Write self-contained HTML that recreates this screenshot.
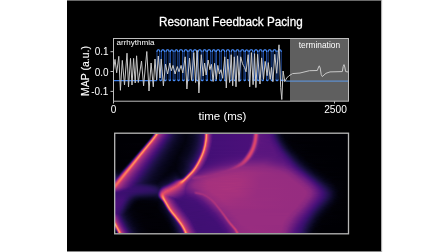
<!DOCTYPE html>
<html><head><meta charset="utf-8"><style>
html,body{margin:0;padding:0;background:#fff;width:448px;height:252px;overflow:hidden}
.b{position:absolute;top:0;height:252px}
#hm{position:absolute;left:115px;top:134px;width:233px;height:99px}
#hm i{display:block;height:1px;width:233px}
svg{position:absolute;left:0;top:0;display:block}
text{font-family:"Liberation Sans",Arial,sans-serif;fill:#fff}
</style></head><body>
<div class="b" style="left:67px;width:314px;background:#000"></div>
<div class="b" style="left:381px;width:1px;background:#afafaf"></div>
<div class="b" style="left:382px;width:1px;background:#f4f4f4"></div>
<div class="b" style="left:67px;width:314px;height:1px;background:#696969"></div>
<div class="b" style="left:67px;top:251px;width:314px;height:1px;background:#878787"></div>
<div id="hm">
<i style="background:linear-gradient(90deg,#000004 0.5px,#010005 36.5px,#03030f 37.5px,#1d1147 38.5px,#792282 39.5px,#ef5d5e 40.5px,#fea36f 41.5px,#f66e5c 42.5px,#c53c74 43.5px,#a6317d 44.5px,#792282 47.5px,#4e117b 51.5px,#311165 54.5px,#19103f 58.5px,#0d0a29 62.5px,#030312 69.5px,#030312 72.5px,#0c0926 79.5px,#180f3d 83.5px,#311165 87.5px,#3b0f70 88.5px,#671b80 89.5px,#e04c67 90.5px,#fd9a6a 91.5px,#e24d66 92.5px,#aa337d 93.5px,#721f81 95.5px,#4e117b 97.5px,#451077 98.5px,#4a1079 134.5px,#4e117b 136.5px,#54137d 137.5px,#721f81 138.5px,#a8327d 139.5px,#d3436e 140.5px,#d6456c 141.5px,#b3367a 142.5px,#832681 143.5px,#6b1d81 144.5px,#601880 145.5px,#5a167e 148.5px,#4f127b 154.5px,#3f0f72 157.5px,#251255 160.5px,#110c2f 163.5px,#050416 166.5px,#020109 170.5px,#000004 199.5px,#000004 232.5px)"></i>
<i style="background:linear-gradient(90deg,#000004 0.5px,#000004 35.5px,#020109 36.5px,#100b2d 37.5px,#52137c 38.5px,#c43c75 39.5px,#fc8a62 40.5px,#fb8761 41.5px,#db476a 42.5px,#b2357b 43.5px,#8c2981 45.5px,#52137c 50.5px,#36106b 53.5px,#180f3d 58.5px,#0a0822 63.5px,#03030f 70.5px,#08071e 77.5px,#180f3d 83.5px,#311165 87.5px,#3b0f70 88.5px,#681c81 89.5px,#e44f64 90.5px,#fd9a6a 91.5px,#e04c67 92.5px,#a8327d 93.5px,#892881 94.5px,#5d177f 96.5px,#4e117b 97.5px,#451077 98.5px,#4a1079 134.5px,#4e117b 136.5px,#56147d 137.5px,#762181 138.5px,#ae347b 139.5px,#d5446d 140.5px,#d5446d 141.5px,#ae347b 142.5px,#812581 143.5px,#6a1c81 144.5px,#5f187f 145.5px,#5a167e 147.5px,#54137d 153.5px,#400f74 157.5px,#271258 160.5px,#120d31 163.5px,#060518 166.5px,#02020b 169.5px,#000004 187.5px,#000004 232.5px)"></i>
<i style="background:linear-gradient(90deg,#000004 0.5px,#000004 34.5px,#010108 35.5px,#090720 36.5px,#390f6e 37.5px,#a3307e 38.5px,#f9785d 39.5px,#fc9065 40.5px,#e75263 41.5px,#b83779 42.5px,#a1307e 43.5px,#6a1c81 47.5px,#440f76 51.5px,#20114b 56.5px,#110c2f 60.5px,#050416 67.5px,#03030f 71.5px,#0e0b2b 80.5px,#221150 85.5px,#3b0f70 88.5px,#6b1d81 89.5px,#e95462 90.5px,#fd9a6a 91.5px,#df4a68 92.5px,#a6317d 93.5px,#882781 94.5px,#5c167f 96.5px,#4c117a 97.5px,#451077 98.5px,#4a1079 134.5px,#4e117b 136.5px,#57157e 137.5px,#7e2482 138.5px,#b5367a 139.5px,#d8456c 140.5px,#d2426f 141.5px,#aa337d 142.5px,#7e2482 143.5px,#681c81 144.5px,#5d177f 145.5px,#52137c 154.5px,#3b0f70 158.5px,#221150 161.5px,#100b2d 164.5px,#07061c 166.5px,#02020b 169.5px,#000004 187.5px,#000004 232.5px)"></i>
<i style="background:linear-gradient(90deg,#000004 0.5px,#010106 34.5px,#060518 35.5px,#271258 36.5px,#862781 37.5px,#f05f5e 38.5px,#fd9869 39.5px,#f3655c 40.5px,#c43c75 41.5px,#a6317d 42.5px,#792282 45.5px,#451077 50.5px,#29115a 54.5px,#150e38 58.5px,#06051a 65.5px,#03030f 71.5px,#0c0926 79.5px,#1d1147 84.5px,#311165 87.5px,#3d0f71 88.5px,#701f81 89.5px,#ee5b5e 90.5px,#fd9a6a 91.5px,#dc4869 92.5px,#a5317e 93.5px,#862781 94.5px,#5a167e 96.5px,#4c117a 97.5px,#451077 98.5px,#4a1079 134.5px,#4e117b 136.5px,#5a167e 137.5px,#842681 138.5px,#bc3978 139.5px,#d9466b 140.5px,#cf4070 141.5px,#a3307e 142.5px,#7b2382 143.5px,#671b80 144.5px,#5d177f 145.5px,#52137c 154.5px,#3f0f72 158.5px,#251255 161.5px,#08071e 166.5px,#02020d 169.5px,#010106 176.5px,#000004 232.5px)"></i>
<i style="background:linear-gradient(90deg,#000004 0.5px,#010005 33.5px,#030312 34.5px,#1c1044 35.5px,#6d1d81 36.5px,#de4968 37.5px,#fd9467 38.5px,#f9785d 39.5px,#d2426f 40.5px,#ad347c 41.5px,#8b2981 43.5px,#5c167f 47.5px,#38106c 51.5px,#1c1044 56.5px,#0c0926 61.5px,#03030f 70.5px,#07061c 76.5px,#150e38 82.5px,#331067 87.5px,#400f74 88.5px,#782281 89.5px,#f3655c 90.5px,#fd9668 91.5px,#d9466b 92.5px,#a1307e 93.5px,#6d1d81 95.5px,#4a1079 97.5px,#451077 99.5px,#4a1079 134.5px,#4e117b 136.5px,#5d177f 137.5px,#8c2981 138.5px,#c23b75 139.5px,#db476a 140.5px,#ca3e72 141.5px,#9c2e7f 142.5px,#782281 143.5px,#651a80 144.5px,#5c167f 145.5px,#54137d 154.5px,#420f75 158.5px,#2a115c 161.5px,#0e0b2b 165.5px,#02020b 170.5px,#010005 181.5px,#000004 232.5px)"></i>
<i style="background:linear-gradient(90deg,#000004 0.5px,#010005 32.5px,#02020d 33.5px,#130d34 34.5px,#59157e 35.5px,#c73d73 36.5px,#fc8961 37.5px,#fb8560 38.5px,#dc4869 39.5px,#b3367a 40.5px,#9e2f7f 41.5px,#681c81 45.5px,#420f75 49.5px,#21114e 54.5px,#130d34 58.5px,#07061c 64.5px,#03030f 70.5px,#090720 77.5px,#130d34 81.5px,#241253 85.5px,#341069 87.5px,#440f76 88.5px,#862781 89.5px,#f7725c 90.5px,#fc9065 91.5px,#d3436e 92.5px,#9e2f7f 93.5px,#812581 94.5px,#57157e 96.5px,#4a1079 97.5px,#451077 99.5px,#4a1079 134.5px,#4f127b 136.5px,#621980 137.5px,#942c80 138.5px,#c83e73 139.5px,#db476a 140.5px,#c53c74 141.5px,#962c80 142.5px,#752181 143.5px,#641a80 144.5px,#5c167f 145.5px,#56147d 154.5px,#3f0f72 159.5px,#251255 162.5px,#0c0926 166.5px,#02020d 170.5px,#010106 175.5px,#000004 232.5px)"></i>
<i style="background:linear-gradient(90deg,#000004 0.5px,#000004 31.5px,#020109 32.5px,#0e0b2b 33.5px,#491078 34.5px,#b0357b 35.5px,#f97b5d 36.5px,#fc8e64 37.5px,#e75263 38.5px,#ba3878 39.5px,#a3307e 40.5px,#782281 43.5px,#451077 48.5px,#271258 52.5px,#140e36 57.5px,#090720 62.5px,#03030f 70.5px,#0b0924 78.5px,#160f3b 82.5px,#341069 87.5px,#4a1079 88.5px,#962c80 89.5px,#fa815f 90.5px,#fb8761 91.5px,#cd4071 92.5px,#9b2e7f 93.5px,#681c81 95.5px,#491078 97.5px,#440f76 98.5px,#4a1079 134.5px,#52137c 136.5px,#6b1d81 137.5px,#a02f7f 138.5px,#cf4070 139.5px,#d9466b 140.5px,#bf3a77 141.5px,#8e2a81 142.5px,#701f81 143.5px,#621980 144.5px,#5a167e 146.5px,#59157e 153.5px,#471078 158.5px,#331067 161.5px,#140e36 165.5px,#050416 169.5px,#010106 174.5px,#000004 232.5px)"></i>
<i style="background:linear-gradient(90deg,#000004 0.5px,#000004 30.5px,#010108 31.5px,#0a0822 32.5px,#3b0f70 33.5px,#9c2e7f 34.5px,#f56b5c 35.5px,#fd9467 36.5px,#f1605d 37.5px,#c43c75 38.5px,#a8327d 39.5px,#7b2382 42.5px,#491078 47.5px,#2a115c 51.5px,#120d31 57.5px,#06051a 64.5px,#03030f 70.5px,#08071e 76.5px,#130d34 81.5px,#251255 85.5px,#36106b 87.5px,#51127c 88.5px,#ab337c 89.5px,#fc8c63 90.5px,#f9785d 91.5px,#c43c75 92.5px,#982d80 93.5px,#671b80 95.5px,#471078 97.5px,#451077 100.5px,#4a1079 134.5px,#4c117a 135.5px,#56147d 136.5px,#762181 137.5px,#ab337c 138.5px,#d3436e 139.5px,#d8456c 140.5px,#b73779 141.5px,#862781 142.5px,#6d1d81 143.5px,#601880 144.5px,#5a167e 146.5px,#57157e 154.5px,#451077 159.5px,#2d1161 162.5px,#0d0a29 167.5px,#03030f 171.5px,#010005 177.5px,#000004 232.5px)"></i>
<i style="background:linear-gradient(90deg,#000004 0.5px,#000004 29.5px,#010108 30.5px,#07061c 31.5px,#2d1161 32.5px,#892881 33.5px,#ee5b5e 34.5px,#fd9668 35.5px,#f66e5c 36.5px,#cf4070 37.5px,#ad347c 38.5px,#802582 41.5px,#54137d 45.5px,#3b0f70 48.5px,#21114e 52.5px,#130d34 56.5px,#090720 61.5px,#03030f 69.5px,#08071e 76.5px,#140e36 81.5px,#271258 85.5px,#38106c 87.5px,#59157e 88.5px,#c03a76 89.5px,#fd9467 90.5px,#f3655c 91.5px,#ba3878 92.5px,#932b80 93.5px,#641a80 95.5px,#451077 97.5px,#4a1079 133.5px,#4e117b 135.5px,#5a167e 136.5px,#832681 137.5px,#b83779 138.5px,#d8456c 139.5px,#d3436e 140.5px,#ad347c 141.5px,#802582 142.5px,#6a1c81 143.5px,#5f187f 144.5px,#5c167f 147.5px,#54137d 156.5px,#420f75 160.5px,#331067 162.5px,#150e38 166.5px,#08071e 169.5px,#020109 173.5px,#000004 186.5px,#000004 232.5px)"></i>
<i style="background:linear-gradient(90deg,#000004 0.5px,#010106 29.5px,#060518 30.5px,#241253 31.5px,#792282 32.5px,#e34e65 33.5px,#fd9266 34.5px,#f9795d 35.5px,#d6456c 36.5px,#b2357b 37.5px,#902a81 39.5px,#57157e 44.5px,#36106b 48.5px,#1a1042 53.5px,#0d0a29 58.5px,#040414 65.5px,#03030f 70.5px,#0e0b2b 79.5px,#221150 84.5px,#390f6e 87.5px,#621980 88.5px,#d8456c 89.5px,#fd9a6a 90.5px,#e95462 91.5px,#b0357b 92.5px,#8e2a81 93.5px,#601880 95.5px,#4f127b 96.5px,#451077 97.5px,#4a1079 133.5px,#4f127b 135.5px,#621980 136.5px,#912b81 137.5px,#c43c75 138.5px,#db476a 139.5px,#cd4071 140.5px,#a3307e 141.5px,#792282 142.5px,#671b80 143.5px,#5d177f 144.5px,#57157e 155.5px,#451077 160.5px,#2f1163 163.5px,#0e0b2b 168.5px,#050416 171.5px,#020109 174.5px,#000004 183.5px,#000004 232.5px)"></i>
<i style="background:linear-gradient(90deg,#000004 0.5px,#010106 28.5px,#040414 29.5px,#1d1147 30.5px,#6a1c81 31.5px,#d3436e 32.5px,#fc8a62 33.5px,#fa815f 34.5px,#de4968 35.5px,#b5367a 36.5px,#932b80 38.5px,#5a167e 43.5px,#400f74 46.5px,#20114b 51.5px,#0d0a29 57.5px,#040414 65.5px,#03030f 69.5px,#090720 76.5px,#150e38 81.5px,#2a115c 85.5px,#3d0f71 87.5px,#6e1e81 88.5px,#ea5661 89.5px,#fd9a6a 90.5px,#df4a68 91.5px,#a8327d 92.5px,#892881 93.5px,#5d177f 95.5px,#4e117b 96.5px,#451077 97.5px,#4a1079 133.5px,#52137c 135.5px,#6e1e81 136.5px,#a1307e 137.5px,#cf4070 138.5px,#db476a 139.5px,#c43c75 140.5px,#962c80 141.5px,#752181 142.5px,#641a80 143.5px,#5c167f 144.5px,#57157e 156.5px,#440f76 161.5px,#341069 163.5px,#160f3b 167.5px,#060518 171.5px,#010108 176.5px,#000004 202.5px,#000004 232.5px)"></i>
<i style="background:linear-gradient(90deg,#000004 0.5px,#010005 27.5px,#03030f 28.5px,#160f3b 29.5px,#5a167e 30.5px,#c23b75 31.5px,#fb835f 32.5px,#fc8a62 33.5px,#e44f64 34.5px,#ba3878 35.5px,#a5317e 36.5px,#701f81 40.5px,#4a1079 44.5px,#331067 47.5px,#19103f 52.5px,#090720 59.5px,#03030f 67.5px,#06051a 74.5px,#130d34 80.5px,#241253 84.5px,#341069 86.5px,#440f76 87.5px,#842681 88.5px,#f66e5c 89.5px,#fd9266 90.5px,#d6456c 91.5px,#a1307e 92.5px,#6d1d81 94.5px,#4a1079 96.5px,#440f76 97.5px,#4a1079 133.5px,#4c117a 134.5px,#57157e 135.5px,#7c2382 136.5px,#b2357b 137.5px,#d6456c 138.5px,#d8456c 139.5px,#b83779 140.5px,#892881 141.5px,#6e1e81 142.5px,#601880 143.5px,#5a167e 145.5px,#59157e 155.5px,#4c117a 160.5px,#390f6e 163.5px,#140e36 168.5px,#060518 172.5px,#010108 176.5px,#000004 202.5px,#000004 232.5px)"></i>
<i style="background:linear-gradient(90deg,#000004 0.5px,#010005 26.5px,#02020d 27.5px,#110c2f 28.5px,#4c117a 29.5px,#b0357b 30.5px,#f8765c 31.5px,#fc9065 32.5px,#ed5a5f 33.5px,#c23b75 34.5px,#a8327d 35.5px,#7e2482 38.5px,#4e117b 43.5px,#2f1163 47.5px,#1a1042 51.5px,#08071e 59.5px,#03030f 67.5px,#050416 72.5px,#110c2f 79.5px,#251255 84.5px,#36106b 86.5px,#4f127b 87.5px,#a3307e 88.5px,#fb8761 89.5px,#fa815f 90.5px,#ca3e72 91.5px,#9b2e7f 92.5px,#6a1c81 94.5px,#491078 96.5px,#440f76 98.5px,#471078 118.5px,#4a1079 133.5px,#4f127b 134.5px,#601880 135.5px,#8e2a81 136.5px,#c03a76 137.5px,#db476a 138.5px,#d2426f 139.5px,#ab337c 140.5px,#802582 141.5px,#681c81 142.5px,#5a167e 144.5px,#59157e 156.5px,#4a1079 161.5px,#36106b 164.5px,#130d34 169.5px,#050416 173.5px,#010106 178.5px,#000004 232.5px)"></i>
<i style="background:linear-gradient(90deg,#000004 0.5px,#010005 25.5px,#02020b 26.5px,#0d0a29 27.5px,#400f74 28.5px,#9c2e7f 29.5px,#f4675c 30.5px,#fd9467 31.5px,#f4675c 32.5px,#ca3e72 33.5px,#ad347c 34.5px,#8e2a81 36.5px,#59157e 41.5px,#38106c 45.5px,#1d1147 50.5px,#110c2f 54.5px,#06051a 60.5px,#03030f 67.5px,#090720 75.5px,#120d31 79.5px,#271258 84.5px,#390f6e 86.5px,#5c167f 87.5px,#c73d73 88.5px,#fd9668 89.5px,#f3655c 90.5px,#ba3878 91.5px,#932b80 92.5px,#651a80 94.5px,#52137c 95.5px,#471078 96.5px,#451077 99.5px,#4a1079 132.5px,#4c117a 133.5px,#54137d 134.5px,#721f81 135.5px,#a3307e 136.5px,#cd4071 137.5px,#db476a 138.5px,#c83e73 139.5px,#9c2e7f 140.5px,#782281 141.5px,#651a80 142.5px,#5c167f 143.5px,#59157e 157.5px,#491078 162.5px,#331067 165.5px,#120d31 170.5px,#06051a 173.5px,#010108 178.5px,#000004 196.5px,#000004 232.5px)"></i>
<i style="background:linear-gradient(90deg,#000004 0.5px,#000004 24.5px,#020109 25.5px,#0a0822 26.5px,#331067 27.5px,#8c2981 28.5px,#ec5860 29.5px,#fd9266 30.5px,#f8745c 31.5px,#d3436e 32.5px,#b0357b 33.5px,#832681 36.5px,#51127c 41.5px,#390f6e 44.5px,#1d1147 49.5px,#090720 57.5px,#02020d 66.5px,#090720 75.5px,#19103f 81.5px,#311165 85.5px,#3d0f71 86.5px,#6d1d81 87.5px,#e75263 88.5px,#fd9a6a 89.5px,#e44f64 90.5px,#ad347c 91.5px,#8c2981 92.5px,#601880 94.5px,#4f127b 95.5px,#451077 96.5px,#4a1079 132.5px,#4e117b 133.5px,#5c167f 134.5px,#842681 135.5px,#b73779 136.5px,#d8456c 137.5px,#d8456c 138.5px,#ba3878 139.5px,#8c2981 140.5px,#701f81 141.5px,#621980 142.5px,#5a167e 144.5px,#59157e 157.5px,#4c117a 162.5px,#390f6e 165.5px,#150e38 170.5px,#08071e 173.5px,#020109 178.5px,#000004 190.5px,#000004 232.5px)"></i>
<i style="background:linear-gradient(90deg,#000004 0.5px,#000004 23.5px,#010108 24.5px,#07061c 25.5px,#29115a 26.5px,#7b2382 27.5px,#e04c67 28.5px,#fc8e64 29.5px,#f97b5d 30.5px,#d9466b 31.5px,#b5367a 32.5px,#932b80 34.5px,#5c167f 39.5px,#3b0f70 43.5px,#1e1149 48.5px,#0d0a29 54.5px,#03030f 64.5px,#03030f 67.5px,#0a0822 75.5px,#160f3b 80.5px,#341069 85.5px,#471078 86.5px,#892881 87.5px,#f7725c 88.5px,#fd9266 89.5px,#d6456c 90.5px,#a3307e 91.5px,#6e1e81 93.5px,#4c117a 95.5px,#440f76 96.5px,#4a1079 132.5px,#52137c 133.5px,#6d1d81 134.5px,#9c2e7f 135.5px,#c83e73 136.5px,#dc4869 137.5px,#d0416f 138.5px,#a8327d 139.5px,#7e2482 140.5px,#681c81 141.5px,#5a167e 143.5px,#59157e 158.5px,#4a1079 163.5px,#2f1163 167.5px,#140e36 171.5px,#060518 175.5px,#010108 180.5px,#000004 198.5px,#000004 232.5px)"></i>
<i style="background:linear-gradient(90deg,#000004 0.5px,#010106 23.5px,#060518 24.5px,#21114e 25.5px,#6d1d81 26.5px,#d0416f 27.5px,#fb8761 28.5px,#fb8560 29.5px,#e04c67 30.5px,#ba3878 31.5px,#a5317e 32.5px,#721f81 36.5px,#451077 41.5px,#241253 46.5px,#110c2f 52.5px,#040414 61.5px,#03030f 66.5px,#090720 74.5px,#150e38 79.5px,#271258 83.5px,#38106c 85.5px,#56147d 86.5px,#b3367a 87.5px,#fc8e64 88.5px,#f9785d 89.5px,#c53c74 90.5px,#992d80 91.5px,#7e2482 92.5px,#57157e 94.5px,#491078 95.5px,#440f76 97.5px,#4a1079 131.5px,#4e117b 132.5px,#5c167f 133.5px,#842681 134.5px,#b5367a 135.5px,#d5446d 136.5px,#db476a 137.5px,#c03a76 138.5px,#962c80 139.5px,#752181 140.5px,#641a80 141.5px,#5c167f 142.5px,#59157e 158.5px,#4c117a 163.5px,#3b0f70 166.5px,#1e1149 170.5px,#0b0924 174.5px,#02020b 179.5px,#000004 188.5px,#000004 232.5px)"></i>
<i style="background:linear-gradient(90deg,#000004 0.5px,#010106 22.5px,#040414 23.5px,#1a1042 24.5px,#5f187f 25.5px,#c03a76 26.5px,#f97b5d 27.5px,#fc8c63 28.5px,#eb5760 29.5px,#c03a76 30.5px,#a8327d 31.5px,#752181 35.5px,#471078 40.5px,#251255 45.5px,#120d31 51.5px,#07061c 57.5px,#02020d 65.5px,#08071e 73.5px,#160f3b 79.5px,#311165 84.5px,#3d0f71 85.5px,#681c81 86.5px,#de4968 87.5px,#fd9a6a 88.5px,#ec5860 89.5px,#b3367a 90.5px,#912b81 91.5px,#641a80 93.5px,#451077 95.5px,#4c117a 131.5px,#54137d 132.5px,#701f81 133.5px,#9e2f7f 134.5px,#c83e73 135.5px,#dc4869 136.5px,#d2426f 137.5px,#ad347c 138.5px,#832681 139.5px,#6b1d81 140.5px,#601880 141.5px,#5a167e 143.5px,#59157e 159.5px,#471078 165.5px,#331067 168.5px,#130d34 173.5px,#07061c 176.5px,#010108 182.5px,#000004 200.5px,#000004 232.5px)"></i>
<i style="background:linear-gradient(90deg,#000004 0.5px,#010106 21.5px,#030312 22.5px,#150e38 23.5px,#52137c 24.5px,#ae347b 25.5px,#f7705c 26.5px,#fc9065 27.5px,#f2645c 28.5px,#c83e73 29.5px,#ad347c 30.5px,#832681 33.5px,#51127c 38.5px,#390f6e 41.5px,#1a1042 47.5px,#0a0822 54.5px,#02020d 64.5px,#090720 73.5px,#140e36 78.5px,#2c115f 83.5px,#341069 84.5px,#471078 85.5px,#892881 86.5px,#f66e5c 87.5px,#fd9467 88.5px,#d9466b 89.5px,#a5317e 90.5px,#882781 91.5px,#5d177f 93.5px,#440f76 95.5px,#4a1079 130.5px,#4f127b 131.5px,#621980 132.5px,#892881 133.5px,#b83779 134.5px,#d6456c 135.5px,#db476a 136.5px,#c23b75 137.5px,#982d80 138.5px,#762181 139.5px,#651a80 140.5px,#5a167e 142.5px,#5c167f 157.5px,#4f127b 164.5px,#38106c 168.5px,#1d1147 172.5px,#0a0822 176.5px,#020109 182.5px,#000004 194.5px,#000004 232.5px)"></i>
<i style="background:linear-gradient(90deg,#000004 0.5px,#010005 20.5px,#03030f 21.5px,#110c2f 22.5px,#451077 23.5px,#9e2f7f 24.5px,#f2625d 25.5px,#fd9266 26.5px,#f66e5c 27.5px,#d2426f 28.5px,#b0357b 29.5px,#842681 32.5px,#54137d 37.5px,#36106b 41.5px,#1c1044 46.5px,#090720 54.5px,#02020d 64.5px,#08071e 72.5px,#150e38 78.5px,#2f1163 83.5px,#390f6e 84.5px,#59157e 85.5px,#ba3878 86.5px,#fc9065 87.5px,#f8765c 88.5px,#c53c74 89.5px,#9b2e7f 90.5px,#6a1c81 92.5px,#4a1079 94.5px,#440f76 95.5px,#4a1079 129.5px,#4e117b 130.5px,#59157e 131.5px,#792282 132.5px,#a6317d 133.5px,#cd4071 134.5px,#dc4869 135.5px,#d0416f 136.5px,#ad347c 137.5px,#832681 138.5px,#6b1d81 139.5px,#601880 140.5px,#5c167f 142.5px,#5a167e 159.5px,#51127c 164.5px,#3f0f72 168.5px,#29115a 171.5px,#0d0a29 176.5px,#03030f 181.5px,#010005 187.5px,#000004 232.5px)"></i>
<i style="background:linear-gradient(90deg,#000004 0.5px,#010005 19.5px,#02020d 20.5px,#0d0a29 21.5px,#3b0f70 22.5px,#8e2a81 23.5px,#e95462 24.5px,#fc8e64 25.5px,#f9785d 26.5px,#d8456c 27.5px,#b5367a 28.5px,#a1307e 29.5px,#681c81 34.5px,#3f0f72 39.5px,#21114e 44.5px,#140e36 48.5px,#0a0822 53.5px,#02020d 63.5px,#090720 72.5px,#140e36 77.5px,#2c115f 82.5px,#331067 83.5px,#400f74 84.5px,#732081 85.5px,#e95462 86.5px,#fd9a6a 87.5px,#e85362 88.5px,#b0357b 89.5px,#902a81 90.5px,#641a80 92.5px,#451077 94.5px,#4c117a 129.5px,#54137d 130.5px,#6b1d81 131.5px,#962c80 132.5px,#c03a76 133.5px,#d9466b 134.5px,#d9466b 135.5px,#bf3a77 136.5px,#962c80 137.5px,#752181 138.5px,#651a80 139.5px,#5d177f 140.5px,#5a167e 160.5px,#4e117b 166.5px,#3d0f71 169.5px,#271258 172.5px,#120d31 176.5px,#060518 180.5px,#010108 185.5px,#000004 203.5px,#000004 232.5px)"></i>
<i style="background:linear-gradient(90deg,#000004 0.5px,#010005 18.5px,#02020b 19.5px,#0b0924 20.5px,#311165 21.5px,#802582 22.5px,#de4968 23.5px,#fc8961 24.5px,#fa815f 25.5px,#df4a68 26.5px,#ba3878 27.5px,#a5317e 28.5px,#732081 32.5px,#471078 37.5px,#2c115f 41.5px,#180f3d 46.5px,#0a0822 52.5px,#03030f 61.5px,#03030f 64.5px,#08071e 71.5px,#150e38 77.5px,#2f1163 82.5px,#38106c 83.5px,#51127c 84.5px,#a3307e 85.5px,#fa815f 86.5px,#fc8961 87.5px,#d2426f 88.5px,#a1307e 89.5px,#701f81 91.5px,#4e117b 93.5px,#440f76 94.5px,#491078 116.5px,#4e117b 128.5px,#51127c 129.5px,#621980 130.5px,#862781 131.5px,#b2357b 132.5px,#d3436e 133.5px,#dc4869 134.5px,#cc3f71 135.5px,#a6317d 136.5px,#802582 137.5px,#6a1c81 138.5px,#601880 139.5px,#5a167e 161.5px,#4c117a 167.5px,#3b0f70 170.5px,#271258 173.5px,#110c2f 177.5px,#040414 182.5px,#010106 187.5px,#000004 232.5px)"></i>
<i style="background:linear-gradient(90deg,#000004 0.5px,#010005 17.5px,#020109 18.5px,#08071e 19.5px,#271258 20.5px,#701f81 21.5px,#cf4070 22.5px,#fa7f5e 23.5px,#fc8961 24.5px,#e95462 25.5px,#c03a76 26.5px,#a8327d 27.5px,#762181 31.5px,#4a1079 36.5px,#29115a 41.5px,#130d34 47.5px,#06051a 55.5px,#02020d 62.5px,#090720 71.5px,#160f3b 77.5px,#2a115c 81.5px,#3f0f72 83.5px,#6b1d81 84.5px,#dc4869 85.5px,#fd9a6a 86.5px,#f2625d 87.5px,#ba3878 88.5px,#942c80 89.5px,#56147d 92.5px,#491078 93.5px,#440f76 95.5px,#491078 112.5px,#4e117b 127.5px,#51127c 128.5px,#5c167f 129.5px,#7b2382 130.5px,#a5317e 131.5px,#c83e73 132.5px,#d9466b 133.5px,#d3436e 134.5px,#b73779 135.5px,#8e2a81 136.5px,#721f81 137.5px,#651a80 138.5px,#5f187f 139.5px,#5d177f 159.5px,#4f127b 167.5px,#3b0f70 171.5px,#251255 174.5px,#0d0a29 179.5px,#03030f 184.5px,#010005 190.5px,#000004 232.5px)"></i>
<i style="background:linear-gradient(90deg,#000004 0.5px,#000004 16.5px,#010108 17.5px,#06051a 18.5px,#20114b 19.5px,#641a80 20.5px,#bd3977 21.5px,#f8745c 22.5px,#fc8e64 23.5px,#f1605d 24.5px,#c83e73 25.5px,#ad347c 26.5px,#842681 29.5px,#54137d 34.5px,#36106b 38.5px,#19103f 44.5px,#0a0822 51.5px,#02020d 61.5px,#0b0924 72.5px,#1d1147 78.5px,#36106b 82.5px,#4e117b 83.5px,#982d80 84.5px,#f9785d 85.5px,#fc9065 86.5px,#db476a 87.5px,#a6317d 88.5px,#892881 89.5px,#4f127b 92.5px,#451077 93.5px,#440f76 95.5px,#491078 107.5px,#51127c 126.5px,#52137c 127.5px,#5a167e 128.5px,#721f81 129.5px,#982d80 130.5px,#bd3977 131.5px,#d3436e 132.5px,#d5446d 133.5px,#bf3a77 134.5px,#9b2e7f 135.5px,#792282 136.5px,#681c81 137.5px,#601880 139.5px,#621980 152.5px,#57157e 165.5px,#451077 170.5px,#331067 173.5px,#110c2f 179.5px,#030312 184.5px,#010005 191.5px,#000004 232.5px)"></i>
<i style="background:linear-gradient(90deg,#000004 0.5px,#000004 15.5px,#010108 16.5px,#050416 17.5px,#1a1042 18.5px,#56147d 19.5px,#ad347c 20.5px,#f4675c 21.5px,#fc8e64 22.5px,#f56b5c 23.5px,#d0416f 24.5px,#b2357b 25.5px,#932b80 27.5px,#671b80 31.5px,#3f0f72 36.5px,#1e1149 42.5px,#110c2f 47.5px,#06051a 54.5px,#02020d 62.5px,#0b0924 71.5px,#140e36 75.5px,#241253 79.5px,#3d0f71 82.5px,#671b80 83.5px,#d3436e 84.5px,#fd9869 85.5px,#f56b5c 86.5px,#c03a76 87.5px,#982d80 88.5px,#6a1c81 90.5px,#4a1079 92.5px,#440f76 93.5px,#52137c 125.5px,#5a167e 127.5px,#6d1d81 128.5px,#902a81 129.5px,#b3367a 130.5px,#cd4071 131.5px,#d3436e 132.5px,#c43c75 133.5px,#812581 135.5px,#6d1d81 136.5px,#651a80 137.5px,#641a80 154.5px,#57157e 166.5px,#451077 171.5px,#331067 174.5px,#140e36 179.5px,#050416 184.5px,#010106 190.5px,#000004 232.5px)"></i>
<i style="background:linear-gradient(90deg,#000004 0.5px,#010106 15.5px,#040414 16.5px,#150e38 17.5px,#4a1079 18.5px,#9b2e7f 19.5px,#ec5860 20.5px,#fc8c63 21.5px,#f8745c 22.5px,#d8456c 23.5px,#b5367a 24.5px,#962c80 26.5px,#601880 31.5px,#400f74 35.5px,#20114b 41.5px,#0e0b2b 47.5px,#030312 57.5px,#02020d 62.5px,#0c0926 71.5px,#19103f 76.5px,#2d1161 80.5px,#36106b 81.5px,#4c117a 82.5px,#932b80 83.5px,#f7725c 84.5px,#fd9467 85.5px,#df4a68 86.5px,#aa337d 87.5px,#752181 89.5px,#451077 92.5px,#52137c 121.5px,#5c167f 126.5px,#6b1d81 127.5px,#ab337c 129.5px,#c73d73 130.5px,#d0416f 131.5px,#c53c74 132.5px,#aa337d 133.5px,#882781 134.5px,#721f81 135.5px,#671b80 137.5px,#681c81 151.5px,#59157e 167.5px,#451077 172.5px,#390f6e 174.5px,#140e36 180.5px,#050416 185.5px,#010106 191.5px,#000004 232.5px)"></i>
<i style="background:linear-gradient(90deg,#000004 0.5px,#010106 14.5px,#03030f 15.5px,#110c2f 16.5px,#3f0f72 17.5px,#8b2981 18.5px,#e24d66 19.5px,#fb8761 20.5px,#fa7f5e 21.5px,#e04c67 22.5px,#ba3878 23.5px,#982d80 25.5px,#621980 30.5px,#440f76 34.5px,#241253 39.5px,#120d31 45.5px,#050416 54.5px,#02020d 61.5px,#06051a 67.5px,#180f3d 75.5px,#2a115c 79.5px,#3d0f71 81.5px,#671b80 82.5px,#d0416f 83.5px,#fd9869 84.5px,#f7705c 85.5px,#c23b75 86.5px,#9b2e7f 87.5px,#6b1d81 89.5px,#4c117a 91.5px,#440f76 92.5px,#4c117a 107.5px,#5a167e 124.5px,#5f187f 125.5px,#6b1d81 126.5px,#a6317d 128.5px,#c03a76 129.5px,#cc3f71 130.5px,#c53c74 131.5px,#ad347c 132.5px,#8e2a81 133.5px,#762181 134.5px,#6d1d81 135.5px,#6b1d81 151.5px,#5a167e 167.5px,#4a1079 172.5px,#38106c 175.5px,#180f3d 180.5px,#07061c 185.5px,#010108 191.5px,#000004 209.5px,#000004 232.5px)"></i>
<i style="background:linear-gradient(90deg,#000004 0.5px,#010106 13.5px,#02020d 14.5px,#0d0a29 15.5px,#341069 16.5px,#7c2382 17.5px,#d3436e 18.5px,#fa7d5e 19.5px,#fb8761 20.5px,#eb5760 21.5px,#c23b75 22.5px,#aa337d 23.5px,#782281 27.5px,#451077 33.5px,#2a115c 37.5px,#120d31 44.5px,#06051a 52.5px,#02020d 60.5px,#040414 65.5px,#160f3b 74.5px,#221150 77.5px,#36106b 80.5px,#4e117b 81.5px,#962c80 82.5px,#f7725c 83.5px,#fd9467 84.5px,#e04c67 85.5px,#ab337c 86.5px,#8c2981 87.5px,#52137c 90.5px,#471078 91.5px,#451077 93.5px,#59157e 119.5px,#641a80 124.5px,#701f81 125.5px,#a5317e 127.5px,#bd3977 128.5px,#c73d73 129.5px,#c43c75 130.5px,#ae347b 131.5px,#912b81 132.5px,#7b2382 133.5px,#721f81 134.5px,#701f81 151.5px,#5c167f 168.5px,#4a1079 173.5px,#38106c 176.5px,#180f3d 181.5px,#07061c 186.5px,#010106 193.5px,#000004 232.5px)"></i>
<i style="background:linear-gradient(90deg,#000004 0.5px,#010005 12.5px,#02020d 13.5px,#0b0924 14.5px,#2a115c 15.5px,#6e1e81 16.5px,#c43c75 17.5px,#f7725c 18.5px,#fc8a62 19.5px,#f2625d 20.5px,#cc3f71 21.5px,#ae347b 22.5px,#862781 25.5px,#56147d 30.5px,#390f6e 34.5px,#1e1149 39.5px,#0b0924 47.5px,#02020d 58.5px,#03030f 63.5px,#0a0822 69.5px,#20114b 76.5px,#331067 79.5px,#3f0f72 80.5px,#6a1c81 81.5px,#d6456c 82.5px,#fd9869 83.5px,#f66e5c 84.5px,#c23b75 85.5px,#9b2e7f 86.5px,#6d1d81 88.5px,#4c117a 90.5px,#451077 91.5px,#5a167e 116.5px,#641a80 122.5px,#782281 124.5px,#ba3878 127.5px,#c43c75 128.5px,#bf3a77 129.5px,#ad347c 130.5px,#7e2482 132.5px,#762181 133.5px,#752181 151.5px,#5d177f 169.5px,#440f76 175.5px,#29115a 179.5px,#100b2d 184.5px,#040414 189.5px,#010108 194.5px,#000004 212.5px,#000004 232.5px)"></i>
<i style="background:linear-gradient(90deg,#000004 0.5px,#010005 11.5px,#02020b 12.5px,#090720 13.5px,#241253 14.5px,#621980 15.5px,#b3367a 16.5px,#f3655c 17.5px,#fc8a62 18.5px,#f56b5c 19.5px,#d3436e 20.5px,#b3367a 21.5px,#942c80 23.5px,#601880 28.5px,#3b0f70 33.5px,#20114b 38.5px,#0c0926 46.5px,#040414 54.5px,#02020b 60.5px,#07061c 67.5px,#130d34 72.5px,#2f1163 78.5px,#38106c 79.5px,#51127c 80.5px,#a02f7f 81.5px,#f9795d 82.5px,#fc9065 83.5px,#de4968 84.5px,#aa337d 85.5px,#8c2981 86.5px,#641a80 88.5px,#491078 90.5px,#471078 92.5px,#601880 117.5px,#6b1d81 121.5px,#732081 122.5px,#942c80 124.5px,#aa337d 125.5px,#b83779 126.5px,#bf3a77 127.5px,#ba3878 128.5px,#aa337d 129.5px,#812581 131.5px,#7b2382 132.5px,#7c2382 148.5px,#641a80 168.5px,#4f127b 174.5px,#36106b 178.5px,#130d34 184.5px,#040414 190.5px,#010005 198.5px,#000004 232.5px)"></i>
<i style="background:linear-gradient(90deg,#000004 0.5px,#010005 10.5px,#02020b 11.5px,#08071e 12.5px,#1e1149 13.5px,#57157e 14.5px,#a5317e 15.5px,#ec5860 16.5px,#fb8761 17.5px,#f8765c 18.5px,#db476a 19.5px,#b83779 20.5px,#a5317e 21.5px,#6b1d81 26.5px,#440f76 31.5px,#251255 36.5px,#120d31 42.5px,#06051a 50.5px,#02020b 60.5px,#07061c 67.5px,#140e36 72.5px,#2d1161 77.5px,#341069 78.5px,#420f75 79.5px,#752181 80.5px,#e34e65 81.5px,#fd9a6a 82.5px,#f3655c 83.5px,#bd3977 84.5px,#992d80 85.5px,#6b1d81 87.5px,#4e117b 89.5px,#471078 90.5px,#651a80 116.5px,#732081 120.5px,#7c2382 121.5px,#ad347c 124.5px,#b83779 125.5px,#ba3878 126.5px,#b3367a 127.5px,#842681 130.5px,#802582 132.5px,#812581 148.5px,#681c81 168.5px,#4f127b 175.5px,#36106b 179.5px,#140e36 185.5px,#07061c 189.5px,#02020b 194.5px,#000004 202.5px,#000004 232.5px)"></i>
<i style="background:linear-gradient(90deg,#000004 0.5px,#010005 9.5px,#020109 10.5px,#07061c 11.5px,#1c1044 12.5px,#4f127b 13.5px,#982d80 14.5px,#e34e65 15.5px,#fa815f 16.5px,#fa7d5e 17.5px,#e55064 18.5px,#bf3a77 19.5px,#aa337d 20.5px,#782281 24.5px,#451077 30.5px,#271258 35.5px,#130d34 41.5px,#06051a 49.5px,#02020b 60.5px,#090720 68.5px,#19103f 73.5px,#311165 77.5px,#3b0f70 78.5px,#5c167f 79.5px,#b73779 80.5px,#fc8961 81.5px,#fb8761 82.5px,#d5446d 83.5px,#a6317d 84.5px,#752181 86.5px,#54137d 88.5px,#4a1079 89.5px,#651a80 112.5px,#752181 118.5px,#892881 120.5px,#b0357b 123.5px,#b5367a 124.5px,#aa337d 126.5px,#8e2a81 128.5px,#842681 130.5px,#862781 148.5px,#6e1e81 167.5px,#5a167e 174.5px,#3d0f71 179.5px,#1d1147 184.5px,#0a0822 189.5px,#02020d 194.5px,#000004 202.5px,#000004 232.5px)"></i>
<i style="background:linear-gradient(90deg,#010005 0.5px,#010005 8.5px,#020109 9.5px,#06051a 10.5px,#180f3d 11.5px,#471078 12.5px,#8c2981 13.5px,#d9466b 14.5px,#f9795d 15.5px,#fb835f 16.5px,#ec5860 17.5px,#c73d73 18.5px,#ad347c 19.5px,#7b2382 23.5px,#471078 29.5px,#2d1161 33.5px,#160f3b 39.5px,#090720 46.5px,#02020d 56.5px,#02020d 61.5px,#0a0822 68.5px,#150e38 72.5px,#2c115f 76.5px,#36106b 77.5px,#4a1079 78.5px,#8c2981 79.5px,#f3655c 80.5px,#fd9869 81.5px,#e95462 82.5px,#b5367a 83.5px,#942c80 84.5px,#6a1c81 86.5px,#4f127b 88.5px,#4e117b 90.5px,#732081 115.5px,#882781 118.5px,#a8327d 121.5px,#ae347b 122.5px,#ae347b 123.5px,#8e2a81 127.5px,#8b2981 130.5px,#892881 150.5px,#732081 168.5px,#5c167f 175.5px,#3d0f71 180.5px,#19103f 186.5px,#08071e 191.5px,#020109 197.5px,#000004 210.5px,#000004 232.5px)"></i>
<i style="background:linear-gradient(90deg,#010005 0.5px,#010005 7.5px,#020109 8.5px,#060518 9.5px,#150e38 10.5px,#400f74 11.5px,#812581 12.5px,#cd4071 13.5px,#f7725c 14.5px,#fb8560 15.5px,#f1605d 16.5px,#cd4071 17.5px,#b2357b 18.5px,#892881 21.5px,#59157e 26.5px,#36106b 31.5px,#1a1042 37.5px,#0c0926 43.5px,#02020d 55.5px,#02020d 60.5px,#0a0822 68.5px,#1a1042 73.5px,#2f1163 76.5px,#3f0f72 77.5px,#6e1e81 78.5px,#d8456c 79.5px,#fd9869 80.5px,#f8765c 81.5px,#c83e73 82.5px,#a02f7f 83.5px,#721f81 85.5px,#54137d 87.5px,#4e117b 88.5px,#782281 113.5px,#882781 116.5px,#a3307e 119.5px,#a8327d 121.5px,#912b81 125.5px,#902a81 140.5px,#882781 157.5px,#762181 169.5px,#5c167f 176.5px,#3f0f72 181.5px,#241253 185.5px,#120d31 189.5px,#050416 194.5px,#010106 200.5px,#000004 232.5px)"></i>
<i style="background:linear-gradient(90deg,#010106 0.5px,#010005 6.5px,#020109 7.5px,#050416 8.5px,#130d34 9.5px,#390f6e 10.5px,#782281 11.5px,#c23b75 12.5px,#f4695c 13.5px,#fb8560 14.5px,#f4695c 15.5px,#d3436e 16.5px,#b5367a 17.5px,#8b2981 20.5px,#54137d 26.5px,#38106c 30.5px,#1c1044 36.5px,#0b0924 43.5px,#03030f 53.5px,#02020d 60.5px,#090720 67.5px,#140e36 71.5px,#21114e 74.5px,#36106b 76.5px,#5a167e 77.5px,#b5367a 78.5px,#fb8560 79.5px,#fc8c63 80.5px,#de4968 81.5px,#ab337c 82.5px,#792282 84.5px,#59157e 86.5px,#52137c 87.5px,#7c2382 111.5px,#892881 114.5px,#9e2f7f 117.5px,#a1307e 119.5px,#932b80 124.5px,#902a81 152.5px,#7e2482 168.5px,#641a80 176.5px,#400f74 182.5px,#20114b 187.5px,#0e0b2b 191.5px,#030312 196.5px,#010005 203.5px,#000004 232.5px)"></i>
<i style="background:linear-gradient(90deg,#020109 0.5px,#010106 5.5px,#020109 6.5px,#040414 7.5px,#120d31 8.5px,#341069 9.5px,#701f81 10.5px,#b83779 11.5px,#f05f5e 12.5px,#fb835f 13.5px,#f7705c 14.5px,#db476a 15.5px,#ba3878 16.5px,#a6317d 17.5px,#6e1e81 22.5px,#400f74 28.5px,#20114b 34.5px,#0c0926 42.5px,#02020d 54.5px,#02020d 60.5px,#08071e 66.5px,#120d31 70.5px,#241253 74.5px,#2d1161 75.5px,#4c117a 76.5px,#992d80 77.5px,#f66c5c 78.5px,#fd9668 79.5px,#ea5661 80.5px,#b83779 81.5px,#982d80 82.5px,#6d1d81 84.5px,#5d177f 85.5px,#56147d 86.5px,#842681 110.5px,#9b2e7f 115.5px,#962c80 124.5px,#912b81 155.5px,#802582 170.5px,#651a80 177.5px,#400f74 183.5px,#251255 187.5px,#100b2d 192.5px,#040414 197.5px,#010005 205.5px,#000004 232.5px)"></i>
<i style="background:linear-gradient(90deg,#02020d 0.5px,#02020b 5.5px,#040414 6.5px,#100b2d 7.5px,#2f1163 8.5px,#671b80 9.5px,#ad347c 10.5px,#ea5661 11.5px,#fa7f5e 12.5px,#f8765c 13.5px,#e34e65 14.5px,#bf3a77 15.5px,#aa337d 16.5px,#7b2382 20.5px,#491078 26.5px,#251255 32.5px,#180f3d 36.5px,#08071e 44.5px,#02020d 55.5px,#030312 62.5px,#0c0926 68.5px,#1a1042 72.5px,#271258 74.5px,#400f74 75.5px,#832681 76.5px,#ea5661 77.5px,#fd9a6a 78.5px,#f66e5c 79.5px,#c53c74 80.5px,#a02f7f 81.5px,#732081 83.5px,#641a80 84.5px,#5a167e 85.5px,#5c167f 87.5px,#792282 101.5px,#8c2981 108.5px,#992d80 113.5px,#982d80 120.5px,#992d80 133.5px,#8e2a81 163.5px,#7c2382 173.5px,#51127c 182.5px,#341069 186.5px,#130d34 192.5px,#040414 198.5px,#010005 206.5px,#000004 232.5px)"></i>
<i style="background:linear-gradient(90deg,#040414 0.5px,#03030f 4.5px,#040414 5.5px,#0e0b2b 6.5px,#2a115c 7.5px,#5f187f 8.5px,#a1307e 9.5px,#e34e65 10.5px,#f9795d 11.5px,#f9795d 12.5px,#e95462 13.5px,#c53c74 14.5px,#ad347c 15.5px,#7c2382 19.5px,#4a1079 25.5px,#2c115f 30.5px,#150e38 36.5px,#08071e 44.5px,#02020d 54.5px,#030312 59.5px,#030312 62.5px,#0b0924 67.5px,#160f3b 71.5px,#221150 73.5px,#390f6e 74.5px,#762181 75.5px,#de4968 76.5px,#fd9668 77.5px,#fa7f5e 78.5px,#d5446d 79.5px,#a8327d 80.5px,#792282 82.5px,#681c81 83.5px,#5d177f 84.5px,#5f187f 86.5px,#762181 95.5px,#8b2981 104.5px,#992d80 109.5px,#982d80 115.5px,#9c2e7f 128.5px,#902a81 165.5px,#812581 173.5px,#641a80 180.5px,#451077 185.5px,#29115a 189.5px,#110c2f 194.5px,#050416 199.5px,#010108 204.5px,#000004 226.5px,#000004 232.5px)"></i>
<i style="background:linear-gradient(90deg,#07061c 0.5px,#050416 3.5px,#060518 4.5px,#0d0a29 5.5px,#251255 6.5px,#57157e 7.5px,#982d80 8.5px,#db476a 9.5px,#f7725c 10.5px,#fa7d5e 11.5px,#ed5a5f 12.5px,#cc3f71 13.5px,#b0357b 14.5px,#892881 17.5px,#54137d 23.5px,#331067 28.5px,#160f3b 35.5px,#08071e 43.5px,#02020d 53.5px,#050416 59.5px,#050416 63.5px,#110c2f 69.5px,#20114b 72.5px,#341069 73.5px,#701f81 74.5px,#d5446d 75.5px,#fd9266 76.5px,#fc8961 77.5px,#de4968 78.5px,#ae347b 79.5px,#932b80 80.5px,#6d1d81 82.5px,#621980 83.5px,#641a80 85.5px,#7e2482 95.5px,#982d80 106.5px,#a02f7f 127.5px,#982d80 147.5px,#902a81 168.5px,#802582 175.5px,#601880 182.5px,#400f74 187.5px,#19103f 193.5px,#06051a 199.5px,#010106 207.5px,#000004 232.5px)"></i>
<i style="background:linear-gradient(90deg,#0b0924 0.5px,#090720 3.5px,#0d0a29 4.5px,#21114e 5.5px,#51127c 6.5px,#8c2981 7.5px,#d0416f 8.5px,#f56b5c 9.5px,#fa7d5e 10.5px,#f1605d 11.5px,#d0416f 12.5px,#b3367a 13.5px,#812581 17.5px,#56147d 22.5px,#341069 27.5px,#1a1042 33.5px,#0b0924 40.5px,#03030f 50.5px,#030312 55.5px,#06051a 59.5px,#060518 64.5px,#120d31 69.5px,#1c1044 71.5px,#2f1163 72.5px,#6b1d81 73.5px,#d0416f 74.5px,#fc8e64 75.5px,#fc8a62 76.5px,#e24d66 77.5px,#b3367a 78.5px,#962c80 79.5px,#701f81 81.5px,#651a80 82.5px,#671b80 84.5px,#7e2482 91.5px,#942c80 100.5px,#992d80 102.5px,#982d80 105.5px,#a1307e 122.5px,#982d80 152.5px,#912b81 169.5px,#832681 176.5px,#5c167f 184.5px,#3b0f70 189.5px,#1a1042 194.5px,#090720 199.5px,#02020b 205.5px,#000004 214.5px,#000004 232.5px)"></i>
<i style="background:linear-gradient(90deg,#110c2f 0.5px,#110c2f 3.5px,#20114b 4.5px,#491078 5.5px,#832681 6.5px,#c53c74 7.5px,#f2625d 8.5px,#f97b5d 9.5px,#f4695c 10.5px,#d8456c 11.5px,#b83779 12.5px,#992d80 14.5px,#5f187f 20.5px,#3d0f71 25.5px,#1c1044 32.5px,#0d0a29 38.5px,#03030f 50.5px,#040414 55.5px,#08071e 60.5px,#06051a 64.5px,#0c0926 67.5px,#130d34 69.5px,#19103f 70.5px,#2c115f 71.5px,#681c81 72.5px,#cf4070 73.5px,#fc8c63 74.5px,#fc8c63 75.5px,#e44f64 76.5px,#b5367a 77.5px,#992d80 78.5px,#842681 79.5px,#6b1d81 81.5px,#6d1d81 83.5px,#842681 90.5px,#992d80 99.5px,#a02f7f 111.5px,#a1307e 128.5px,#982d80 148.5px,#932b80 170.5px,#842681 177.5px,#59157e 186.5px,#3d0f71 190.5px,#1c1044 195.5px,#0a0822 200.5px,#030312 204.5px,#010005 211.5px,#000004 232.5px)"></i>
<i style="background:linear-gradient(90deg,#180f3d 0.5px,#160f3b 2.5px,#20114b 3.5px,#420f75 4.5px,#792282 5.5px,#ba3878 6.5px,#ec5860 7.5px,#f9785d 8.5px,#f66e5c 9.5px,#e04c67 10.5px,#bf3a77 11.5px,#aa337d 12.5px,#732081 17.5px,#440f76 23.5px,#2c115f 27.5px,#120d31 35.5px,#050416 45.5px,#03030f 51.5px,#07061c 57.5px,#0a0822 60.5px,#08071e 65.5px,#110c2f 68.5px,#160f3b 69.5px,#2a115c 70.5px,#651a80 71.5px,#cc3f71 72.5px,#fc8a62 73.5px,#fc8c63 74.5px,#e44f64 75.5px,#b73779 76.5px,#9b2e7f 77.5px,#7c2382 79.5px,#762181 80.5px,#902a81 90.5px,#942c80 93.5px,#992d80 95.5px,#a5317e 120.5px,#992d80 147.5px,#942c80 171.5px,#832681 179.5px,#601880 186.5px,#3f0f72 191.5px,#1d1147 196.5px,#0a0822 201.5px,#02020d 207.5px,#000004 215.5px,#000004 232.5px)"></i>
<i style="background:linear-gradient(90deg,#20114b 0.5px,#1e1149 1.5px,#241253 2.5px,#3f0f72 3.5px,#701f81 4.5px,#ae347b 5.5px,#e55064 6.5px,#f8745c 7.5px,#f7725c 8.5px,#e75263 9.5px,#c43c75 10.5px,#ad347c 11.5px,#7e2482 15.5px,#4e117b 21.5px,#341069 25.5px,#1d1147 30.5px,#0b0924 38.5px,#030312 48.5px,#050416 53.5px,#0e0b2b 61.5px,#0a0822 65.5px,#110c2f 67.5px,#160f3b 68.5px,#29115a 69.5px,#641a80 70.5px,#c83e73 71.5px,#fc8a62 72.5px,#fc8e64 73.5px,#e55064 74.5px,#b73779 75.5px,#9b2e7f 76.5px,#8c2981 77.5px,#842681 79.5px,#932b80 87.5px,#9b2e7f 89.5px,#982d80 93.5px,#a5317e 112.5px,#a3307e 128.5px,#992d80 145.5px,#942c80 172.5px,#842681 180.5px,#621980 187.5px,#400f74 192.5px,#241253 196.5px,#120d31 200.5px,#060518 205.5px,#010108 211.5px,#000004 232.5px)"></i>
<i style="background:linear-gradient(90deg,#29115a 0.5px,#2a115c 1.5px,#3d0f71 2.5px,#681c81 3.5px,#a3307e 4.5px,#dc4869 5.5px,#f66c5c 6.5px,#f8745c 7.5px,#eb5760 8.5px,#ca3e72 9.5px,#b2357b 10.5px,#962c80 12.5px,#651a80 17.5px,#420f75 22.5px,#251255 27.5px,#140e36 33.5px,#090720 39.5px,#030312 48.5px,#0b0924 57.5px,#120d31 60.5px,#110c2f 63.5px,#0e0b2b 65.5px,#110c2f 66.5px,#180f3d 67.5px,#2a115c 68.5px,#651a80 69.5px,#c83e73 70.5px,#fc8961 71.5px,#fc8e64 72.5px,#e75263 73.5px,#b83779 74.5px,#9b2e7f 75.5px,#8b2981 76.5px,#862781 77.5px,#912b81 80.5px,#982d80 83.5px,#962c80 88.5px,#a5317e 107.5px,#a3307e 129.5px,#992d80 144.5px,#942c80 174.5px,#842681 181.5px,#651a80 188.5px,#420f75 193.5px,#251255 197.5px,#130d34 201.5px,#060518 206.5px,#010108 212.5px,#000004 232.5px)"></i>
<i style="background:linear-gradient(90deg,#311165 0.5px,#3d0f71 1.5px,#621980 2.5px,#992d80 3.5px,#d3436e 4.5px,#f3655c 5.5px,#f8745c 6.5px,#ef5d5e 7.5px,#d0416f 8.5px,#b5367a 9.5px,#992d80 11.5px,#671b80 16.5px,#440f76 21.5px,#221150 27.5px,#0e0b2b 35.5px,#050416 44.5px,#050416 49.5px,#0a0822 55.5px,#180f3d 61.5px,#1a1042 65.5px,#21114e 66.5px,#38106c 67.5px,#6e1e81 68.5px,#cd4071 69.5px,#fc8a62 70.5px,#fc8e64 71.5px,#e75263 72.5px,#b83779 73.5px,#9c2e7f 74.5px,#892881 75.5px,#7e2482 76.5px,#902a81 78.5px,#962c80 88.5px,#a3307e 98.5px,#a8327d 121.5px,#992d80 145.5px,#942c80 175.5px,#862781 182.5px,#671b80 189.5px,#440f76 194.5px,#271258 198.5px,#100b2d 203.5px,#03030f 210.5px,#000004 219.5px,#000004 232.5px)"></i>
<i style="background:linear-gradient(90deg,#420f75 0.5px,#5d177f 1.5px,#902a81 2.5px,#c83e73 3.5px,#ef5d5e 4.5px,#f7725c 5.5px,#f2645c 6.5px,#d9466b 7.5px,#ba3878 8.5px,#9b2e7f 10.5px,#6a1c81 15.5px,#3f0f72 21.5px,#1d1147 28.5px,#0d0a29 35.5px,#040414 45.5px,#0a0822 53.5px,#110c2f 57.5px,#311165 63.5px,#4a1079 65.5px,#641a80 66.5px,#942c80 67.5px,#df4a68 68.5px,#fc8e64 69.5px,#fc8e64 70.5px,#e55064 71.5px,#b83779 72.5px,#9c2e7f 73.5px,#882781 74.5px,#7b2382 75.5px,#782281 76.5px,#892881 79.5px,#992d80 88.5px,#a5317e 97.5px,#a6317d 126.5px,#992d80 144.5px,#962c80 175.5px,#882781 183.5px,#681c81 190.5px,#451077 195.5px,#29115a 199.5px,#140e36 203.5px,#050416 209.5px,#010005 218.5px,#000004 232.5px)"></i>
<i style="background:linear-gradient(90deg,#5d177f 0.5px,#862781 1.5px,#bf3a77 2.5px,#ea5661 3.5px,#f7705c 4.5px,#f4675c 5.5px,#df4a68 6.5px,#c03a76 7.5px,#ab337c 8.5px,#752181 13.5px,#471078 19.5px,#251255 25.5px,#150e38 30.5px,#06051a 40.5px,#050416 45.5px,#0c0926 53.5px,#160f3b 57.5px,#1c1044 58.5px,#341069 60.5px,#54137d 62.5px,#7c2382 64.5px,#9c2e7f 65.5px,#c83e73 66.5px,#f3655c 67.5px,#fd9869 68.5px,#fc8a62 69.5px,#e44f64 70.5px,#b83779 71.5px,#9c2e7f 72.5px,#882781 73.5px,#7b2382 74.5px,#752181 75.5px,#892881 80.5px,#a1307e 91.5px,#a8327d 111.5px,#a5317e 128.5px,#992d80 144.5px,#962c80 177.5px,#862781 185.5px,#641a80 192.5px,#471078 196.5px,#311165 199.5px,#19103f 203.5px,#090720 208.5px,#020109 215.5px,#000004 227.5px,#000004 232.5px)"></i>
<i style="background:linear-gradient(90deg,#882781 0.5px,#b5367a 1.5px,#e34e65 2.5px,#f56b5c 3.5px,#f56b5c 4.5px,#e44f64 5.5px,#c53c74 6.5px,#ae347b 7.5px,#802582 11.5px,#4f127b 17.5px,#311165 22.5px,#19103f 28.5px,#0a0822 36.5px,#050416 43.5px,#100b2d 53.5px,#19103f 56.5px,#2d1161 58.5px,#400f74 59.5px,#56147d 60.5px,#812581 62.5px,#bd3977 64.5px,#e24d66 65.5px,#f8745c 66.5px,#fd9467 67.5px,#fb8560 68.5px,#e34e65 69.5px,#b73779 70.5px,#9b2e7f 71.5px,#792282 73.5px,#752181 74.5px,#902a81 81.5px,#a5317e 93.5px,#a6317d 126.5px,#992d80 144.5px,#962c80 178.5px,#882781 186.5px,#651a80 193.5px,#400f74 198.5px,#241253 202.5px,#120d31 206.5px,#060518 211.5px,#010108 217.5px,#000004 232.5px)"></i>
<i style="background:linear-gradient(90deg,#b73779 0.5px,#dc4869 1.5px,#f2645c 2.5px,#f56b5c 3.5px,#e95462 4.5px,#ca3e72 5.5px,#b2357b 6.5px,#8c2981 9.5px,#5f187f 14.5px,#3d0f71 19.5px,#20114b 25.5px,#0e0b2b 33.5px,#060518 42.5px,#100b2d 51.5px,#140e36 53.5px,#1e1149 55.5px,#390f6e 57.5px,#4e117b 58.5px,#782281 60.5px,#a6317d 62.5px,#e04c67 64.5px,#f4675c 65.5px,#fa7d5e 66.5px,#f8745c 67.5px,#e24d66 68.5px,#ba3878 69.5px,#9c2e7f 70.5px,#882781 71.5px,#792282 72.5px,#732081 73.5px,#902a81 80.5px,#a6317d 93.5px,#a8327d 124.5px,#992d80 144.5px,#962c80 180.5px,#842681 188.5px,#5f187f 195.5px,#420f75 199.5px,#1c1044 205.5px,#0a0822 210.5px,#020109 217.5px,#000004 229.5px,#000004 232.5px)"></i>
<i style="background:linear-gradient(90deg,#de4968 0.5px,#f05f5e 1.5px,#f56b5c 2.5px,#ed5a5f 3.5px,#d2426f 4.5px,#b73779 5.5px,#9b2e7f 7.5px,#6a1c81 12.5px,#3f0f72 18.5px,#251255 23.5px,#180f3d 29.5px,#07061c 41.5px,#090720 44.5px,#140e36 51.5px,#1e1149 53.5px,#36106b 55.5px,#491078 56.5px,#6e1e81 58.5px,#ad347c 61.5px,#d9466b 63.5px,#e85362 64.5px,#ef5d5e 65.5px,#ee5b5e 66.5px,#dc4869 67.5px,#bd3977 68.5px,#8c2981 70.5px,#7b2382 71.5px,#721f81 72.5px,#792282 74.5px,#902a81 79.5px,#a5317e 91.5px,#aa337d 118.5px,#992d80 145.5px,#962c80 181.5px,#892881 188.5px,#6d1d81 194.5px,#4a1079 199.5px,#331067 202.5px,#140e36 208.5px,#050416 214.5px,#010108 220.5px,#000004 232.5px)"></i>
<i style="background:linear-gradient(90deg,#f1605d 0.5px,#f4695c 1.5px,#ef5d5e 2.5px,#d9466b 3.5px,#bd3977 4.5px,#aa337d 5.5px,#7e2482 9.5px,#4e117b 15.5px,#2d1161 21.5px,#1d1147 30.5px,#0a0822 42.5px,#0e0b2b 46.5px,#19103f 50.5px,#271258 52.5px,#36106b 53.5px,#471078 54.5px,#6b1d81 56.5px,#a5317e 59.5px,#d5446d 62.5px,#e34e65 63.5px,#de4968 65.5px,#d2426f 66.5px,#932b80 69.5px,#721f81 71.5px,#701f81 72.5px,#8e2a81 78.5px,#a6317d 92.5px,#a8327d 124.5px,#992d80 144.5px,#962c80 182.5px,#892881 189.5px,#671b80 196.5px,#420f75 201.5px,#271258 205.5px,#110c2f 210.5px,#020109 219.5px,#000004 231.5px,#000004 232.5px)"></i>
<i style="background:linear-gradient(90deg,#f56b5c 0.5px,#f1605d 1.5px,#df4a68 2.5px,#c23b75 3.5px,#ad347c 4.5px,#762181 9.5px,#491078 15.5px,#311165 20.5px,#1e1149 34.5px,#110c2f 41.5px,#0d0a29 44.5px,#150e38 47.5px,#2a115c 50.5px,#471078 52.5px,#7c2382 55.5px,#c03a76 59.5px,#cf4070 60.5px,#df4a68 62.5px,#df4a68 63.5px,#cc3f71 65.5px,#9b2e7f 68.5px,#782281 70.5px,#6e1e81 71.5px,#912b81 79.5px,#a6317d 93.5px,#a8327d 123.5px,#992d80 144.5px,#962c80 184.5px,#862781 191.5px,#671b80 197.5px,#420f75 202.5px,#271258 206.5px,#0b0924 213.5px,#010108 221.5px,#000004 232.5px)"></i>
<i style="background:linear-gradient(90deg,#f05f5e 0.5px,#e04c67 1.5px,#c43c75 2.5px,#ae347b 3.5px,#782281 8.5px,#440f76 15.5px,#36106b 18.5px,#29115a 31.5px,#1e1149 38.5px,#120d31 43.5px,#140e36 45.5px,#21114e 47.5px,#3b0f70 49.5px,#5a167e 51.5px,#8e2a81 54.5px,#cd4071 58.5px,#e04c67 60.5px,#db476a 62.5px,#bc3978 65.5px,#802582 69.5px,#721f81 70.5px,#6d1d81 71.5px,#8c2981 78.5px,#a3307e 89.5px,#aa337d 109.5px,#a3307e 129.5px,#992d80 144.5px,#962c80 185.5px,#862781 192.5px,#6d1d81 197.5px,#420f75 203.5px,#221150 208.5px,#0b0924 214.5px,#02020b 220.5px,#000004 228.5px,#000004 232.5px)"></i>
<i style="background:linear-gradient(90deg,#db476a 0.5px,#ab337c 2.5px,#752181 7.5px,#491078 13.5px,#390f6e 17.5px,#2c115f 33.5px,#20114b 40.5px,#150e38 44.5px,#1a1042 45.5px,#390f6e 47.5px,#4c117a 48.5px,#7e2482 51.5px,#bd3977 55.5px,#e04c67 58.5px,#de4968 60.5px,#ae347b 65.5px,#6b1d81 70.5px,#701f81 72.5px,#8e2a81 79.5px,#a6317d 93.5px,#a8327d 123.5px,#992d80 143.5px,#962c80 186.5px,#8b2981 192.5px,#651a80 199.5px,#400f74 204.5px,#1d1147 210.5px,#06051a 217.5px,#020109 222.5px,#000004 231.5px,#000004 232.5px)"></i>
<i style="background:linear-gradient(90deg,#b3367a 0.5px,#942c80 2.5px,#5f187f 8.5px,#400f74 13.5px,#38106c 19.5px,#2f1163 34.5px,#241253 40.5px,#1c1044 43.5px,#1c1044 44.5px,#29115a 45.5px,#400f74 46.5px,#59157e 47.5px,#942c80 50.5px,#d5446d 55.5px,#e04c67 56.5px,#df4a68 58.5px,#bd3977 62.5px,#8b2981 67.5px,#681c81 70.5px,#932b80 82.5px,#a5317e 92.5px,#aa337d 116.5px,#9c2e7f 136.5px,#962c80 187.5px,#862781 194.5px,#5c167f 201.5px,#3f0f72 205.5px,#271258 209.5px,#0d0a29 215.5px,#03030f 220.5px,#000004 227.5px,#000004 232.5px)"></i>
<i style="background:linear-gradient(90deg,#912b81 0.5px,#5d177f 6.5px,#3d0f71 12.5px,#2f1163 36.5px,#251255 41.5px,#20114b 43.5px,#271258 44.5px,#400f74 45.5px,#5d177f 46.5px,#912b81 48.5px,#b5367a 50.5px,#cc3f71 52.5px,#df4a68 55.5px,#e04c67 56.5px,#a6317d 63.5px,#762181 68.5px,#641a80 70.5px,#912b81 83.5px,#a3307e 91.5px,#aa337d 111.5px,#a3307e 128.5px,#992d80 143.5px,#962c80 188.5px,#892881 194.5px,#6e1e81 199.5px,#440f76 205.5px,#251255 210.5px,#090720 217.5px,#010108 223.5px,#000004 232.5px)"></i>
<i style="background:linear-gradient(90deg,#752181 0.5px,#420f75 8.5px,#390f6e 14.5px,#2f1163 37.5px,#271258 41.5px,#241253 42.5px,#251255 43.5px,#38106c 44.5px,#5a167e 45.5px,#982d80 47.5px,#c03a76 49.5px,#e04c67 52.5px,#d8456c 55.5px,#a1307e 62.5px,#701f81 68.5px,#651a80 69.5px,#601880 70.5px,#992d80 87.5px,#a6317d 96.5px,#a8327d 121.5px,#992d80 142.5px,#962c80 189.5px,#882781 195.5px,#56147d 203.5px,#341069 208.5px,#120d31 215.5px,#040414 220.5px,#010106 225.5px,#000004 232.5px)"></i>
<i style="background:linear-gradient(90deg,#5a167e 0.5px,#400f74 6.5px,#331067 25.5px,#2a115c 39.5px,#241253 42.5px,#2c115f 43.5px,#4a1079 44.5px,#732081 45.5px,#982d80 46.5px,#b5367a 47.5px,#d5446d 49.5px,#e04c67 50.5px,#d9466b 53.5px,#a3307e 60.5px,#601880 69.5px,#5c167f 70.5px,#762181 78.5px,#882781 80.5px,#962c80 87.5px,#a6317d 96.5px,#a8327d 120.5px,#992d80 142.5px,#962c80 190.5px,#842681 196.5px,#51127c 204.5px,#38106c 208.5px,#180f3d 214.5px,#050416 220.5px,#010106 225.5px,#000004 232.5px)"></i>
<i style="background:linear-gradient(90deg,#451077 0.5px,#3d0f71 6.5px,#331067 19.5px,#251255 40.5px,#241253 42.5px,#341069 43.5px,#5d177f 44.5px,#8b2981 45.5px,#b5367a 46.5px,#cd4071 47.5px,#e04c67 49.5px,#df4a68 50.5px,#b2357b 56.5px,#752181 65.5px,#57157e 70.5px,#721f81 78.5px,#932b80 80.5px,#9b2e7f 81.5px,#942c80 87.5px,#a6317d 97.5px,#a6317d 122.5px,#992d80 142.5px,#962c80 190.5px,#892881 195.5px,#6d1d81 200.5px,#400f74 207.5px,#29115a 211.5px,#0a0822 218.5px,#020109 223.5px,#000004 232.5px)"></i>
<i style="background:linear-gradient(90deg,#3f0f72 0.5px,#390f6e 12.5px,#29115a 24.5px,#21114e 39.5px,#1e1149 41.5px,#221150 42.5px,#3b0f70 43.5px,#6a1c81 44.5px,#a02f7f 45.5px,#cd4071 46.5px,#e24d66 47.5px,#e44f64 48.5px,#d2426f 50.5px,#aa337d 55.5px,#671b80 66.5px,#52137c 70.5px,#681c81 78.5px,#752181 79.5px,#8b2981 80.5px,#992d80 81.5px,#a5317e 84.5px,#992d80 89.5px,#a6317d 99.5px,#a5317e 124.5px,#992d80 141.5px,#962c80 190.5px,#892881 195.5px,#6e1e81 200.5px,#471078 206.5px,#2a115c 211.5px,#0a0822 218.5px,#02020d 222.5px,#000004 228.5px,#000004 232.5px)"></i>
<i style="background:linear-gradient(90deg,#3f0f72 0.5px,#3b0f70 10.5px,#2f1163 16.5px,#21114e 25.5px,#19103f 41.5px,#1e1149 42.5px,#3d0f71 43.5px,#721f81 44.5px,#ad347c 45.5px,#de4968 46.5px,#ed5a5f 47.5px,#e85362 48.5px,#d5446d 49.5px,#ae347b 52.5px,#6d1d81 63.5px,#4e117b 70.5px,#601880 78.5px,#6e1e81 80.5px,#9b2e7f 85.5px,#a5317e 88.5px,#9b2e7f 91.5px,#a8327d 102.5px,#a5317e 123.5px,#992d80 141.5px,#962c80 190.5px,#842681 196.5px,#52137c 204.5px,#3b0f70 208.5px,#20114b 213.5px,#0a0822 218.5px,#020109 223.5px,#000004 232.5px)"></i>
<i style="background:linear-gradient(90deg,#400f74 0.5px,#3d0f71 9.5px,#311165 14.5px,#1e1149 21.5px,#180f3d 29.5px,#140e36 41.5px,#19103f 42.5px,#36106b 43.5px,#6d1d81 44.5px,#ae347b 45.5px,#e55064 46.5px,#f56b5c 47.5px,#ef5d5e 48.5px,#d2426f 49.5px,#b83779 50.5px,#a8327d 51.5px,#902a81 54.5px,#7e2482 58.5px,#4e117b 68.5px,#4a1079 71.5px,#601880 80.5px,#842681 86.5px,#a3307e 89.5px,#a6317d 90.5px,#9b2e7f 93.5px,#a6317d 101.5px,#a5317e 122.5px,#992d80 140.5px,#962c80 189.5px,#8c2981 194.5px,#651a80 201.5px,#400f74 207.5px,#29115a 211.5px,#0a0822 218.5px,#020109 223.5px,#000004 232.5px)"></i>
<i style="background:linear-gradient(90deg,#420f75 0.5px,#3f0f72 8.5px,#36106b 12.5px,#19103f 20.5px,#130d34 25.5px,#0e0b2b 40.5px,#130d34 42.5px,#271258 43.5px,#5a167e 44.5px,#9e2f7f 45.5px,#e34e65 46.5px,#f97b5d 47.5px,#f7725c 48.5px,#d9466b 49.5px,#b83779 50.5px,#912b81 52.5px,#792282 54.5px,#782281 56.5px,#57157e 64.5px,#451077 69.5px,#59157e 80.5px,#7b2382 87.5px,#a5317e 91.5px,#a6317d 92.5px,#9c2e7f 94.5px,#a6317d 105.5px,#a3307e 123.5px,#992d80 141.5px,#962c80 189.5px,#862781 195.5px,#4f127b 204.5px,#38106c 208.5px,#221150 212.5px,#06051a 219.5px,#010108 224.5px,#000004 232.5px)"></i>
<i style="background:linear-gradient(90deg,#440f76 0.5px,#400f74 8.5px,#331067 12.5px,#150e38 19.5px,#0d0a29 24.5px,#090720 38.5px,#0d0a29 42.5px,#180f3d 43.5px,#3b0f70 44.5px,#7b2382 45.5px,#cd4071 46.5px,#f97b5d 47.5px,#fc8a62 48.5px,#e95462 49.5px,#c03a76 50.5px,#a6317d 51.5px,#732081 54.5px,#5f187f 57.5px,#601880 59.5px,#451077 67.5px,#491078 75.5px,#5a167e 82.5px,#7e2482 89.5px,#932b80 91.5px,#a1307e 92.5px,#a8327d 93.5px,#9c2e7f 96.5px,#a6317d 105.5px,#a1307e 125.5px,#992d80 141.5px,#962c80 188.5px,#882781 194.5px,#4e117b 204.5px,#311165 209.5px,#130d34 215.5px,#040414 220.5px,#010106 225.5px,#000004 232.5px)"></i>
<i style="background:linear-gradient(90deg,#471078 0.5px,#400f74 8.5px,#2f1163 12.5px,#100b2d 19.5px,#08071e 24.5px,#060518 37.5px,#090720 42.5px,#0c0926 43.5px,#1c1044 44.5px,#4a1079 45.5px,#992d80 46.5px,#f05f5e 47.5px,#fd9a6a 48.5px,#f8745c 49.5px,#d0416f 50.5px,#b0357b 51.5px,#892881 53.5px,#641a80 56.5px,#4f127b 59.5px,#4c117a 60.5px,#4e117b 62.5px,#420f75 67.5px,#491078 77.5px,#5c167f 84.5px,#832681 91.5px,#a8327d 94.5px,#9c2e7f 97.5px,#a6317d 108.5px,#9b2e7f 134.5px,#962c80 187.5px,#892881 193.5px,#4f127b 203.5px,#390f6e 207.5px,#1e1149 212.5px,#0a0822 217.5px,#02020b 222.5px,#000004 228.5px,#000004 232.5px)"></i>
<i style="background:linear-gradient(90deg,#491078 0.5px,#440f76 7.5px,#331067 11.5px,#120d31 17.5px,#0b0924 19.5px,#040414 25.5px,#040414 38.5px,#06051a 43.5px,#0b0924 44.5px,#1d1147 45.5px,#59157e 46.5px,#ba3878 47.5px,#fb8560 48.5px,#fd9668 49.5px,#e75263 50.5px,#bf3a77 51.5px,#942c80 53.5px,#601880 57.5px,#451077 60.5px,#400f74 70.5px,#4c117a 81.5px,#681c81 88.5px,#8b2981 93.5px,#a6317d 95.5px,#a8327d 96.5px,#9c2e7f 98.5px,#a5317e 107.5px,#9e2f7f 127.5px,#992d80 145.5px,#962c80 187.5px,#812581 194.5px,#4c117a 203.5px,#341069 207.5px,#130d34 214.5px,#040414 219.5px,#010005 225.5px,#000004 232.5px)"></i>
<i style="background:linear-gradient(90deg,#4a1079 0.5px,#451077 6.5px,#3b0f70 9.5px,#29115a 12.5px,#110c2f 16.5px,#040414 21.5px,#02020b 28.5px,#03030f 38.5px,#050416 43.5px,#06051a 44.5px,#0b0924 45.5px,#20114b 46.5px,#681c81 47.5px,#db476a 48.5px,#fd9a6a 49.5px,#f9785d 50.5px,#d5446d 51.5px,#b5367a 52.5px,#812581 55.5px,#491078 60.5px,#400f74 62.5px,#440f76 78.5px,#54137d 85.5px,#802582 93.5px,#942c80 95.5px,#a6317d 96.5px,#aa337d 97.5px,#9c2e7f 99.5px,#a3307e 108.5px,#9b2e7f 133.5px,#962c80 186.5px,#862781 192.5px,#4e117b 202.5px,#36106b 206.5px,#1d1147 211.5px,#0c0926 215.5px,#02020d 220.5px,#010005 225.5px,#000004 232.5px)"></i>
<i style="background:linear-gradient(90deg,#4c117a 0.5px,#420f75 7.5px,#311165 10.5px,#120d31 15.5px,#050416 19.5px,#020109 23.5px,#020109 34.5px,#03030f 42.5px,#07061c 45.5px,#0d0a29 46.5px,#29115a 47.5px,#862781 48.5px,#f56b5c 49.5px,#fd9a6a 50.5px,#ed5a5f 51.5px,#c53c74 52.5px,#9b2e7f 54.5px,#641a80 58.5px,#451077 61.5px,#3f0f72 64.5px,#451077 80.5px,#57157e 87.5px,#862781 95.5px,#a6317d 97.5px,#aa337d 98.5px,#9b2e7f 100.5px,#a3307e 109.5px,#992d80 143.5px,#962c80 185.5px,#882781 191.5px,#4f127b 201.5px,#331067 206.5px,#110c2f 213.5px,#03030f 219.5px,#000004 226.5px,#000004 232.5px)"></i>
<i style="background:linear-gradient(90deg,#4e117b 0.5px,#400f74 7.5px,#2d1161 10.5px,#0e0b2b 15.5px,#030312 19.5px,#010108 22.5px,#02020b 42.5px,#060518 45.5px,#090720 46.5px,#120d31 47.5px,#440f76 48.5px,#ba3878 49.5px,#fc9065 50.5px,#fb8560 51.5px,#dc4869 52.5px,#ba3878 53.5px,#842681 56.5px,#54137d 60.5px,#440f76 62.5px,#3f0f72 66.5px,#451077 82.5px,#57157e 88.5px,#7e2482 95.5px,#862781 96.5px,#a6317d 98.5px,#aa337d 99.5px,#9b2e7f 101.5px,#a1307e 112.5px,#992d80 143.5px,#962c80 184.5px,#842681 191.5px,#51127c 200.5px,#38106c 204.5px,#1e1149 209.5px,#08071e 215.5px,#010108 221.5px,#000004 232.5px)"></i>
<i style="background:linear-gradient(90deg,#4e117b 0.5px,#420f75 6.5px,#311165 9.5px,#110c2f 14.5px,#030312 18.5px,#010106 22.5px,#010108 41.5px,#07061c 46.5px,#0c0926 47.5px,#1e1149 48.5px,#701f81 49.5px,#eb5760 50.5px,#fd9b6b 51.5px,#f2625d 52.5px,#ca3e72 53.5px,#9e2f7f 55.5px,#721f81 58.5px,#471078 62.5px,#3f0f72 65.5px,#440f76 82.5px,#56147d 89.5px,#862781 97.5px,#a8327d 99.5px,#aa337d 100.5px,#9e2f7f 101.5px,#992d80 102.5px,#a02f7f 111.5px,#992d80 148.5px,#962c80 183.5px,#892881 189.5px,#57157e 198.5px,#390f6e 203.5px,#1a1042 209.5px,#090720 214.5px,#02020b 219.5px,#000004 227.5px,#000004 232.5px)"></i>
<i style="background:linear-gradient(90deg,#4e117b 0.5px,#440f76 5.5px,#341069 8.5px,#130d34 13.5px,#06051a 16.5px,#020109 19.5px,#010005 27.5px,#020109 42.5px,#06051a 46.5px,#110c2f 48.5px,#36106b 49.5px,#a6317d 50.5px,#fb8560 51.5px,#fc8c63 52.5px,#e34e65 53.5px,#bf3a77 54.5px,#882781 57.5px,#57157e 61.5px,#400f74 64.5px,#420f75 82.5px,#51127c 89.5px,#762181 96.5px,#862781 98.5px,#aa337d 100.5px,#a8327d 101.5px,#9c2e7f 102.5px,#982d80 103.5px,#a02f7f 112.5px,#992d80 145.5px,#962c80 182.5px,#862781 189.5px,#52137c 198.5px,#3b0f70 202.5px,#160f3b 209.5px,#050416 215.5px,#010005 222.5px,#000004 232.5px)"></i>
<i style="background:linear-gradient(90deg,#4e117b 0.5px,#420f75 5.5px,#311165 8.5px,#100b2d 13.5px,#03030f 17.5px,#010106 20.5px,#010108 42.5px,#08071e 47.5px,#0c0926 48.5px,#1a1042 49.5px,#601880 50.5px,#df4a68 51.5px,#fd9b6b 52.5px,#f66e5c 53.5px,#d2426f 54.5px,#b5367a 55.5px,#812581 58.5px,#54137d 62.5px,#440f76 64.5px,#3f0f72 68.5px,#440f76 85.5px,#59157e 92.5px,#7c2382 98.5px,#882781 99.5px,#ad347c 101.5px,#a6317d 102.5px,#992d80 103.5px,#982d80 105.5px,#9e2f7f 114.5px,#992d80 152.5px,#962c80 182.5px,#812581 189.5px,#4e117b 198.5px,#341069 202.5px,#20114b 206.5px,#090720 212.5px,#020109 218.5px,#000004 227.5px,#000004 232.5px)"></i>
<i style="background:linear-gradient(90deg,#4e117b 0.5px,#440f76 4.5px,#341069 7.5px,#120d31 12.5px,#030312 16.5px,#010106 20.5px,#010106 41.5px,#050416 46.5px,#110c2f 49.5px,#2f1163 50.5px,#932b80 51.5px,#f8765c 52.5px,#fd9668 53.5px,#ea5661 54.5px,#c43c75 55.5px,#9b2e7f 57.5px,#701f81 60.5px,#491078 64.5px,#400f74 66.5px,#420f75 85.5px,#54137d 92.5px,#7c2382 99.5px,#892881 100.5px,#a02f7f 101.5px,#ad347c 102.5px,#982d80 104.5px,#9c2e7f 119.5px,#962c80 181.5px,#832681 188.5px,#4f127b 197.5px,#36106b 201.5px,#160f3b 207.5px,#060518 213.5px,#010106 219.5px,#000004 232.5px)"></i>
<i style="background:linear-gradient(90deg,#4e117b 0.5px,#420f75 4.5px,#311165 7.5px,#100b2d 12.5px,#03030f 16.5px,#010108 19.5px,#010005 40.5px,#03030f 45.5px,#0d0a29 49.5px,#180f3d 50.5px,#51127c 51.5px,#ca3e72 52.5px,#fd9668 53.5px,#fa7f5e 54.5px,#d9466b 55.5px,#ba3878 56.5px,#862781 59.5px,#59157e 63.5px,#420f75 66.5px,#3f0f72 74.5px,#440f76 87.5px,#54137d 93.5px,#7c2382 100.5px,#8b2981 101.5px,#a5317e 102.5px,#ad347c 103.5px,#942c80 105.5px,#9c2e7f 115.5px,#962c80 180.5px,#882781 186.5px,#56147d 195.5px,#3d0f71 199.5px,#251255 203.5px,#0c0926 209.5px,#020109 216.5px,#000004 228.5px,#000004 232.5px)"></i>
<i style="background:linear-gradient(90deg,#4c117a 0.5px,#400f74 4.5px,#2d1161 7.5px,#0d0a29 12.5px,#030312 15.5px,#010108 18.5px,#010005 41.5px,#030312 46.5px,#0b0924 49.5px,#110c2f 50.5px,#251255 51.5px,#7b2382 52.5px,#f05f5e 53.5px,#fd9a6a 54.5px,#f2625d 55.5px,#cc3f71 56.5px,#b3367a 57.5px,#832681 60.5px,#601880 63.5px,#400f74 67.5px,#420f75 87.5px,#4f127b 93.5px,#752181 100.5px,#7c2382 101.5px,#8e2a81 102.5px,#a8327d 103.5px,#ab337c 104.5px,#9b2e7f 105.5px,#932b80 106.5px,#9b2e7f 115.5px,#962c80 179.5px,#882781 185.5px,#57157e 194.5px,#38106c 199.5px,#180f3d 205.5px,#060518 211.5px,#010106 217.5px,#000004 232.5px)"></i>
<i style="background:linear-gradient(90deg,#4c117a 0.5px,#3f0f72 4.5px,#29115a 7.5px,#0a0822 12.5px,#03030f 15.5px,#010106 20.5px,#010106 42.5px,#040414 47.5px,#0d0a29 50.5px,#140e36 51.5px,#3d0f71 52.5px,#aa337d 53.5px,#fb835f 54.5px,#fc9065 55.5px,#e95462 56.5px,#c43c75 57.5px,#9c2e7f 59.5px,#681c81 63.5px,#451077 67.5px,#3f0f72 70.5px,#440f76 89.5px,#4f127b 94.5px,#732081 101.5px,#7e2482 102.5px,#ad347c 104.5px,#aa337d 105.5px,#982d80 106.5px,#912b81 107.5px,#992d80 114.5px,#962c80 178.5px,#842681 185.5px,#52137c 194.5px,#331067 199.5px,#140e36 205.5px,#040414 211.5px,#010106 217.5px,#000004 232.5px)"></i>
<i style="background:linear-gradient(90deg,#4a1079 0.5px,#3b0f70 4.5px,#251255 7.5px,#08071e 12.5px,#02020d 15.5px,#010005 26.5px,#010106 43.5px,#050416 48.5px,#0a0822 50.5px,#100b2d 51.5px,#1d1147 52.5px,#5d177f 53.5px,#d3436e 54.5px,#fd9869 55.5px,#fa815f 56.5px,#de4968 57.5px,#bd3977 58.5px,#8b2981 61.5px,#52137c 66.5px,#400f74 69.5px,#420f75 89.5px,#52137c 96.5px,#752181 102.5px,#812581 103.5px,#9c2e7f 104.5px,#b0357b 105.5px,#a6317d 106.5px,#942c80 107.5px,#932b80 109.5px,#992d80 118.5px,#962c80 177.5px,#892881 183.5px,#59157e 192.5px,#400f74 196.5px,#2d1161 199.5px,#0d0a29 206.5px,#040414 210.5px,#010106 216.5px,#000004 232.5px)"></i>
<i style="background:linear-gradient(90deg,#4a1079 0.5px,#38106c 4.5px,#221150 7.5px,#0b0924 11.5px,#030312 14.5px,#010106 22.5px,#010106 43.5px,#040414 48.5px,#0c0926 51.5px,#120d31 52.5px,#2a115c 53.5px,#7c2382 54.5px,#ed5a5f 55.5px,#fd9b6b 56.5px,#f66c5c 57.5px,#d3436e 58.5px,#b83779 59.5px,#882781 62.5px,#51127c 67.5px,#420f75 69.5px,#3f0f72 84.5px,#491078 94.5px,#621980 100.5px,#752181 103.5px,#862781 104.5px,#a3307e 105.5px,#b0357b 106.5px,#932b80 108.5px,#912b81 110.5px,#992d80 117.5px,#962c80 176.5px,#862781 183.5px,#4e117b 193.5px,#341069 197.5px,#150e38 203.5px,#08071e 207.5px,#02020b 212.5px,#000004 220.5px,#000004 232.5px)"></i>
<i style="background:linear-gradient(90deg,#491078 0.5px,#3d0f71 3.5px,#271258 6.5px,#090720 11.5px,#03030f 15.5px,#010005 25.5px,#010106 44.5px,#050416 49.5px,#0e0b2b 52.5px,#160f3b 53.5px,#390f6e 54.5px,#992d80 55.5px,#f7725c 56.5px,#fd9869 57.5px,#f05f5e 58.5px,#cd4071 59.5px,#b5367a 60.5px,#862781 63.5px,#59157e 67.5px,#420f75 70.5px,#3f0f72 78.5px,#440f76 92.5px,#52137c 98.5px,#6d1d81 103.5px,#762181 104.5px,#892881 105.5px,#aa337d 106.5px,#b0357b 107.5px,#9c2e7f 108.5px,#902a81 109.5px,#992d80 120.5px,#962c80 175.5px,#8c2981 180.5px,#6d1d81 187.5px,#440f76 194.5px,#2a115c 198.5px,#0e0b2b 204.5px,#030312 209.5px,#000004 217.5px,#000004 232.5px)"></i>
<i style="background:linear-gradient(90deg,#4e117b 0.5px,#3b0f70 3.5px,#241253 6.5px,#0c0926 10.5px,#060518 13.5px,#02020b 18.5px,#000004 31.5px,#010108 46.5px,#060518 50.5px,#0b0924 52.5px,#110c2f 53.5px,#1c1044 54.5px,#4c117a 55.5px,#b5367a 56.5px,#fb8560 57.5px,#fd9467 58.5px,#ec5860 59.5px,#c83e73 60.5px,#a02f7f 62.5px,#6b1d81 66.5px,#451077 70.5px,#3f0f72 73.5px,#420f75 92.5px,#52137c 99.5px,#6d1d81 104.5px,#792282 105.5px,#b0357b 107.5px,#ae347b 108.5px,#992d80 109.5px,#8e2a81 110.5px,#982d80 117.5px,#982d80 173.5px,#8b2981 180.5px,#51127c 191.5px,#38106c 195.5px,#160f3b 201.5px,#06051a 206.5px,#020109 211.5px,#000004 220.5px,#000004 232.5px)"></i>
<i style="background:linear-gradient(90deg,#5a167e 0.5px,#491078 2.5px,#2a115c 5.5px,#150e38 8.5px,#090720 11.5px,#02020b 18.5px,#000004 32.5px,#010108 46.5px,#040414 50.5px,#0d0a29 53.5px,#130d34 54.5px,#221150 55.5px,#5f187f 56.5px,#cd4071 57.5px,#fd9266 58.5px,#fc8c63 59.5px,#e75263 60.5px,#c43c75 61.5px,#9c2e7f 63.5px,#681c81 67.5px,#440f76 71.5px,#3f0f72 75.5px,#420f75 93.5px,#52137c 100.5px,#6e1e81 105.5px,#7e2482 106.5px,#9e2f7f 107.5px,#b5367a 108.5px,#aa337d 109.5px,#942c80 110.5px,#8e2a81 111.5px,#982d80 118.5px,#982d80 172.5px,#8b2981 179.5px,#5d177f 188.5px,#400f74 193.5px,#2d1161 196.5px,#100b2d 202.5px,#030312 207.5px,#010005 214.5px,#000004 232.5px)"></i>
<i style="background:linear-gradient(90deg,#6a1c81 0.5px,#451077 3.5px,#221150 6.5px,#0d0a29 10.5px,#03030f 16.5px,#010005 27.5px,#010106 46.5px,#050416 51.5px,#100b2d 54.5px,#160f3b 55.5px,#2c115f 56.5px,#721f81 57.5px,#e04c67 58.5px,#fd9a6a 59.5px,#fa815f 60.5px,#de4968 61.5px,#bf3a77 62.5px,#992d80 64.5px,#651a80 68.5px,#420f75 72.5px,#3f0f72 88.5px,#471078 97.5px,#57157e 102.5px,#721f81 106.5px,#842681 107.5px,#a6317d 108.5px,#b5367a 109.5px,#902a81 111.5px,#992d80 124.5px,#962c80 173.5px,#882781 179.5px,#52137c 189.5px,#36106b 194.5px,#140e36 200.5px,#060518 205.5px,#010108 210.5px,#000004 228.5px,#000004 232.5px)"></i>
<i style="background:linear-gradient(90deg,#792282 0.5px,#4c117a 3.5px,#311165 5.5px,#180f3d 8.5px,#07061c 13.5px,#020109 20.5px,#000004 39.5px,#020109 48.5px,#060518 52.5px,#120d31 55.5px,#1a1042 56.5px,#36106b 57.5px,#842681 58.5px,#ee5b5e 59.5px,#fd9b6b 60.5px,#f7705c 61.5px,#d5446d 62.5px,#b83779 63.5px,#792282 67.5px,#471078 72.5px,#3f0f72 75.5px,#420f75 95.5px,#4f127b 101.5px,#6a1c81 106.5px,#732081 107.5px,#8c2981 108.5px,#b0357b 109.5px,#b3367a 110.5px,#9c2e7f 111.5px,#8e2a81 112.5px,#982d80 121.5px,#982d80 171.5px,#8c2981 177.5px,#5f187f 186.5px,#440f76 191.5px,#311165 194.5px,#120d31 200.5px,#060518 204.5px,#010108 209.5px,#000004 227.5px,#000004 232.5px)"></i>
<i style="background:linear-gradient(90deg,#892881 0.5px,#54137d 3.5px,#36106b 5.5px,#1a1042 8.5px,#0a0822 12.5px,#02020b 19.5px,#000004 35.5px,#010108 48.5px,#050416 52.5px,#0e0b2b 55.5px,#140e36 56.5px,#1e1149 57.5px,#420f75 58.5px,#9b2e7f 59.5px,#f7705c 60.5px,#fd9869 61.5px,#f1605d 62.5px,#cd4071 63.5px,#b5367a 64.5px,#842681 67.5px,#57157e 71.5px,#400f74 74.5px,#400f74 95.5px,#4f127b 102.5px,#6b1d81 107.5px,#792282 108.5px,#b73779 110.5px,#b0357b 111.5px,#962c80 112.5px,#8c2981 113.5px,#982d80 121.5px,#982d80 170.5px,#892881 177.5px,#4f127b 188.5px,#390f6e 192.5px,#21114e 196.5px,#0b0924 201.5px,#03030f 205.5px,#010005 211.5px,#000004 232.5px)"></i>
<i style="background:linear-gradient(90deg,#942c80 0.5px,#5a167e 3.5px,#3b0f70 5.5px,#1d1147 8.5px,#0e0b2b 11.5px,#030312 17.5px,#010005 27.5px,#010106 48.5px,#030312 52.5px,#0c0926 55.5px,#180f3d 57.5px,#241253 58.5px,#51127c 59.5px,#b3367a 60.5px,#fb8560 61.5px,#fd9266 62.5px,#eb5760 63.5px,#c73d73 64.5px,#9e2f7f 66.5px,#681c81 70.5px,#440f76 74.5px,#3f0f72 78.5px,#420f75 97.5px,#4c117a 102.5px,#6d1d81 108.5px,#812581 109.5px,#a5317e 110.5px,#ba3878 111.5px,#912b81 113.5px,#8c2981 114.5px,#982d80 122.5px,#982d80 169.5px,#8e2a81 175.5px,#5c167f 185.5px,#400f74 190.5px,#29115a 194.5px,#090720 201.5px,#010108 207.5px,#000004 225.5px,#000004 232.5px)"></i>
<i style="background:linear-gradient(90deg,#a02f7f 0.5px,#621980 3.5px,#420f75 5.5px,#29115a 7.5px,#110c2f 11.5px,#050416 16.5px,#010108 23.5px,#010005 47.5px,#03030f 52.5px,#0a0822 55.5px,#1c1044 58.5px,#2a115c 59.5px,#621980 60.5px,#cf4070 61.5px,#fd9467 62.5px,#fc8961 63.5px,#e34e65 64.5px,#c03a76 65.5px,#9b2e7f 67.5px,#651a80 71.5px,#420f75 75.5px,#3f0f72 83.5px,#420f75 98.5px,#51127c 104.5px,#671b80 108.5px,#701f81 109.5px,#892881 110.5px,#b0357b 111.5px,#ba3878 112.5px,#a02f7f 113.5px,#8e2a81 114.5px,#912b81 117.5px,#982d80 124.5px,#982d80 169.5px,#882781 176.5px,#4e117b 187.5px,#38106c 191.5px,#20114b 195.5px,#0a0822 200.5px,#020109 206.5px,#000004 215.5px,#000004 232.5px)"></i>
<i style="background:linear-gradient(90deg,#ad347c 0.5px,#6a1c81 3.5px,#491078 5.5px,#2f1163 7.5px,#1d1147 9.5px,#0e0b2b 12.5px,#030312 18.5px,#010106 27.5px,#010106 49.5px,#050416 54.5px,#110c2f 57.5px,#20114b 59.5px,#36106b 60.5px,#792282 61.5px,#e75263 62.5px,#fd9b6b 63.5px,#f8765c 64.5px,#d6456c 65.5px,#ba3878 66.5px,#882781 69.5px,#57157e 73.5px,#400f74 76.5px,#400f74 98.5px,#4e117b 104.5px,#681c81 109.5px,#762181 110.5px,#b83779 112.5px,#b73779 113.5px,#9b2e7f 114.5px,#8e2a81 115.5px,#902a81 117.5px,#982d80 124.5px,#982d80 168.5px,#8c2981 174.5px,#54137d 185.5px,#341069 191.5px,#130d34 197.5px,#040414 202.5px,#010106 207.5px,#000004 232.5px)"></i>
<i style="background:linear-gradient(90deg,#bf3a77 0.5px,#892881 2.5px,#4f127b 5.5px,#341069 7.5px,#21114e 9.5px,#0d0a29 13.5px,#040414 18.5px,#010106 26.5px,#010106 50.5px,#06051a 55.5px,#140e36 58.5px,#251255 60.5px,#440f76 61.5px,#932b80 62.5px,#f4695c 63.5px,#fd9a6a 64.5px,#f2625d 65.5px,#cd4071 66.5px,#a1307e 68.5px,#6a1c81 72.5px,#440f76 76.5px,#3f0f72 80.5px,#420f75 100.5px,#52137c 106.5px,#6b1d81 110.5px,#7c2382 111.5px,#a1307e 112.5px,#bd3977 113.5px,#b3367a 114.5px,#982d80 115.5px,#8c2981 116.5px,#982d80 124.5px,#982d80 168.5px,#862781 175.5px,#4f127b 185.5px,#36106b 190.5px,#150e38 196.5px,#030312 202.5px,#010106 206.5px,#000004 232.5px)"></i>
<i style="background:linear-gradient(90deg,#e04c67 0.5px,#b83779 1.5px,#962c80 2.5px,#681c81 4.5px,#491078 6.5px,#251255 9.5px,#180f3d 11.5px,#07061c 16.5px,#020109 23.5px,#000004 45.5px,#020109 52.5px,#050416 55.5px,#110c2f 58.5px,#1e1149 60.5px,#2a115c 61.5px,#52137c 62.5px,#ae347b 63.5px,#fa815f 64.5px,#fd9467 65.5px,#eb5760 66.5px,#c53c74 67.5px,#9c2e7f 69.5px,#651a80 73.5px,#471078 76.5px,#3f0f72 78.5px,#420f75 101.5px,#54137d 107.5px,#6d1d81 111.5px,#842681 112.5px,#ab337c 113.5px,#c03a76 114.5px,#ae347b 115.5px,#942c80 116.5px,#8c2981 117.5px,#982d80 125.5px,#982d80 167.5px,#8e2a81 172.5px,#782281 177.5px,#471078 186.5px,#331067 190.5px,#130d34 196.5px,#040414 201.5px,#010106 206.5px,#000004 232.5px)"></i>
<i style="background:linear-gradient(90deg,#fb8761 0.5px,#d3436e 1.5px,#a5317e 2.5px,#732081 4.5px,#420f75 7.5px,#21114e 10.5px,#0d0a29 14.5px,#040414 19.5px,#010106 28.5px,#010106 51.5px,#040414 55.5px,#140e36 59.5px,#221150 61.5px,#311165 62.5px,#621980 63.5px,#cd4071 64.5px,#fd9467 65.5px,#fb8560 66.5px,#df4a68 67.5px,#bd3977 68.5px,#962c80 70.5px,#601880 74.5px,#440f76 77.5px,#3f0f72 81.5px,#420f75 101.5px,#4c117a 106.5px,#671b80 111.5px,#721f81 112.5px,#8c2981 113.5px,#b3367a 114.5px,#c23b75 115.5px,#942c80 117.5px,#8e2a81 118.5px,#982d80 125.5px,#982d80 167.5px,#892881 173.5px,#4e117b 184.5px,#341069 189.5px,#19103f 194.5px,#06051a 199.5px,#010108 204.5px,#000004 218.5px,#000004 232.5px)"></i>
<i style="background:linear-gradient(90deg,#feb67c 0.5px,#ef5d5e 1.5px,#b83779 2.5px,#962c80 3.5px,#6a1c81 5.5px,#491078 7.5px,#251255 10.5px,#130d34 13.5px,#060518 18.5px,#010108 26.5px,#010005 50.5px,#02020b 54.5px,#08071e 57.5px,#180f3d 60.5px,#271258 62.5px,#3d0f71 63.5px,#7e2482 64.5px,#eb5760 65.5px,#fd9b6b 66.5px,#f4695c 67.5px,#d0416f 68.5px,#b5367a 69.5px,#812581 72.5px,#51127c 76.5px,#420f75 78.5px,#3f0f72 86.5px,#420f75 102.5px,#51127c 108.5px,#681c81 112.5px,#762181 113.5px,#942c80 114.5px,#bc3978 115.5px,#c23b75 116.5px,#932b80 118.5px,#8e2a81 119.5px,#982d80 126.5px,#982d80 166.5px,#8b2981 172.5px,#4f127b 183.5px,#38106c 188.5px,#160f3b 194.5px,#07061c 198.5px,#010108 203.5px,#000004 221.5px,#000004 232.5px)"></i>
<i style="background:linear-gradient(90deg,#feb078 0.5px,#fc8a62 1.5px,#d5446d 2.5px,#a5317e 3.5px,#732081 5.5px,#420f75 8.5px,#21114e 11.5px,#0d0a29 15.5px,#040414 20.5px,#010106 29.5px,#010106 52.5px,#040414 56.5px,#140e36 60.5px,#2d1161 63.5px,#4c117a 64.5px,#a1307e 65.5px,#f97b5d 66.5px,#fd9668 67.5px,#ea5661 68.5px,#c43c75 69.5px,#992d80 71.5px,#601880 75.5px,#440f76 78.5px,#3f0f72 82.5px,#420f75 103.5px,#4e117b 108.5px,#6a1c81 113.5px,#7b2382 114.5px,#9c2e7f 115.5px,#c03a76 116.5px,#c23b75 117.5px,#a6317d 118.5px,#932b80 119.5px,#912b81 121.5px,#982d80 128.5px,#962c80 167.5px,#842681 173.5px,#4c117a 183.5px,#341069 188.5px,#140e36 194.5px,#03030f 200.5px,#000004 207.5px,#000004 232.5px)"></i>
<i style="background:linear-gradient(90deg,#f7705c 0.5px,#fd9b6b 1.5px,#f05f5e 2.5px,#ba3878 3.5px,#962c80 4.5px,#6a1c81 6.5px,#4a1079 8.5px,#251255 11.5px,#180f3d 13.5px,#07061c 18.5px,#020109 25.5px,#000004 44.5px,#010108 53.5px,#050416 57.5px,#180f3d 61.5px,#271258 63.5px,#341069 64.5px,#621980 65.5px,#cf4070 66.5px,#fd9668 67.5px,#fa7d5e 68.5px,#d8456c 69.5px,#b83779 70.5px,#812581 73.5px,#51127c 77.5px,#400f74 79.5px,#400f74 102.5px,#4c117a 108.5px,#651a80 113.5px,#6d1d81 114.5px,#7e2482 115.5px,#c43c75 117.5px,#c03a76 118.5px,#a3307e 119.5px,#912b81 120.5px,#992d80 134.5px,#962c80 167.5px,#812581 173.5px,#4a1079 183.5px,#38106c 187.5px,#160f3b 193.5px,#050416 198.5px,#010005 204.5px,#000004 232.5px)"></i>
<i style="background:linear-gradient(90deg,#b73779 0.5px,#fa815f 1.5px,#fc8a62 2.5px,#d8456c 3.5px,#a6317d 4.5px,#752181 6.5px,#440f76 9.5px,#221150 12.5px,#0e0b2b 16.5px,#030312 22.5px,#010106 30.5px,#010106 53.5px,#06051a 58.5px,#150e38 61.5px,#2c115f 64.5px,#420f75 65.5px,#882781 66.5px,#f4675c 67.5px,#fd9b6b 68.5px,#ee5b5e 69.5px,#c73d73 70.5px,#9b2e7f 72.5px,#6d1d81 75.5px,#440f76 79.5px,#3f0f72 83.5px,#420f75 105.5px,#51127c 110.5px,#671b80 114.5px,#701f81 115.5px,#832681 116.5px,#aa337d 117.5px,#c73d73 118.5px,#c03a76 119.5px,#a1307e 120.5px,#912b81 121.5px,#992d80 132.5px,#962c80 166.5px,#892881 171.5px,#51127c 181.5px,#390f6e 186.5px,#241253 190.5px,#0c0926 195.5px,#02020b 200.5px,#000004 208.5px,#000004 232.5px)"></i>
<i style="background:linear-gradient(90deg,#671b80 0.5px,#dc4869 1.5px,#fd9a6a 2.5px,#f3655c 3.5px,#bd3977 4.5px,#982d80 5.5px,#6b1d81 7.5px,#4c117a 9.5px,#271258 12.5px,#100b2d 16.5px,#03030f 23.5px,#010005 33.5px,#010106 53.5px,#030312 57.5px,#08071e 59.5px,#29115a 64.5px,#331067 65.5px,#59157e 66.5px,#bf3a77 67.5px,#fc9065 68.5px,#fb835f 69.5px,#db476a 70.5px,#b83779 71.5px,#812581 74.5px,#51127c 78.5px,#400f74 80.5px,#400f74 104.5px,#4e117b 110.5px,#6a1c81 115.5px,#732081 116.5px,#882781 117.5px,#b0357b 118.5px,#cc3f71 119.5px,#bd3977 120.5px,#9e2f7f 121.5px,#932b80 122.5px,#992d80 135.5px,#962c80 166.5px,#882781 171.5px,#4e117b 181.5px,#38106c 186.5px,#21114e 190.5px,#0a0822 195.5px,#020109 200.5px,#000004 209.5px,#000004 232.5px)"></i>
<i style="background:linear-gradient(90deg,#29115a 0.5px,#932b80 1.5px,#f9795d 2.5px,#fc9065 3.5px,#dc4869 4.5px,#aa337d 5.5px,#8c2981 6.5px,#641a80 8.5px,#451077 10.5px,#221150 13.5px,#0e0b2b 17.5px,#060518 21.5px,#02020b 26.5px,#000004 38.5px,#010106 54.5px,#050416 58.5px,#110c2f 61.5px,#2d1161 65.5px,#400f74 66.5px,#802582 67.5px,#f1605d 68.5px,#fd9b6b 69.5px,#ef5d5e 70.5px,#c73d73 71.5px,#9b2e7f 73.5px,#6d1d81 76.5px,#440f76 80.5px,#3f0f72 84.5px,#420f75 106.5px,#4f127b 111.5px,#6d1d81 116.5px,#762181 117.5px,#902a81 118.5px,#ba3878 119.5px,#cd4071 120.5px,#992d80 122.5px,#932b80 123.5px,#992d80 136.5px,#962c80 166.5px,#862781 171.5px,#51127c 180.5px,#36106b 186.5px,#150e38 192.5px,#06051a 196.5px,#020109 200.5px,#000004 209.5px,#000004 232.5px)"></i>
<i style="background:linear-gradient(90deg,#0c0926 0.5px,#4f127b 1.5px,#d3436e 2.5px,#fd9869 3.5px,#f66c5c 4.5px,#c23b75 5.5px,#9b2e7f 6.5px,#6d1d81 8.5px,#4c117a 10.5px,#331067 12.5px,#20114b 14.5px,#0c0926 18.5px,#030312 23.5px,#010106 31.5px,#010106 54.5px,#02020d 57.5px,#0e0b2b 61.5px,#2a115c 65.5px,#341069 66.5px,#57157e 67.5px,#bc3978 68.5px,#fc9065 69.5px,#fb835f 70.5px,#db476a 71.5px,#b83779 72.5px,#812581 75.5px,#51127c 79.5px,#400f74 81.5px,#400f74 105.5px,#4c117a 111.5px,#701f81 117.5px,#7c2382 118.5px,#9c2e7f 119.5px,#c73d73 120.5px,#ca3e72 121.5px,#a6317d 122.5px,#942c80 123.5px,#992d80 143.5px,#962c80 165.5px,#892881 170.5px,#4f127b 180.5px,#341069 186.5px,#130d34 192.5px,#02020d 198.5px,#000004 204.5px,#000004 232.5px)"></i>
<i style="background:linear-gradient(90deg,#03030f 0.5px,#1d1147 1.5px,#882781 2.5px,#f7705c 3.5px,#fd9467 4.5px,#e24d66 5.5px,#ad347c 6.5px,#8e2a81 7.5px,#54137d 10.5px,#38106c 12.5px,#1c1044 15.5px,#0b0924 19.5px,#03030f 24.5px,#010005 34.5px,#010106 54.5px,#030312 58.5px,#08071e 60.5px,#19103f 63.5px,#311165 66.5px,#420f75 67.5px,#802582 68.5px,#f1605d 69.5px,#fd9b6b 70.5px,#ee5b5e 71.5px,#c53c74 72.5px,#ad347c 73.5px,#7b2382 76.5px,#4c117a 80.5px,#400f74 82.5px,#400f74 106.5px,#4a1079 111.5px,#671b80 116.5px,#762181 118.5px,#882781 119.5px,#b0357b 120.5px,#d0416f 121.5px,#c03a76 122.5px,#9e2f7f 123.5px,#942c80 124.5px,#992d80 142.5px,#962c80 165.5px,#882781 170.5px,#52137c 179.5px,#38106c 185.5px,#21114e 189.5px,#0a0822 194.5px,#03030f 197.5px,#000004 204.5px,#000004 232.5px)"></i>
<i style="background:linear-gradient(90deg,#010108 0.5px,#0a0822 1.5px,#4f127b 2.5px,#d8456c 3.5px,#fea16e 4.5px,#f66e5c 5.5px,#c03a76 6.5px,#992d80 7.5px,#6d1d81 9.5px,#4c117a 11.5px,#271258 14.5px,#130d34 17.5px,#06051a 21.5px,#020109 27.5px,#000004 46.5px,#010106 55.5px,#050416 59.5px,#110c2f 62.5px,#2f1163 66.5px,#38106c 67.5px,#5d177f 68.5px,#cd4071 69.5px,#fe9d6c 70.5px,#f97b5d 71.5px,#d5446d 72.5px,#b5367a 73.5px,#802582 76.5px,#4f127b 80.5px,#400f74 82.5px,#400f74 106.5px,#491078 111.5px,#6b1d81 117.5px,#7e2482 119.5px,#992d80 120.5px,#ca3e72 121.5px,#d0416f 122.5px,#aa337d 123.5px,#962c80 124.5px,#982d80 164.5px,#8b2981 169.5px,#51127c 179.5px,#3b0f70 184.5px,#251255 188.5px,#090720 194.5px,#02020b 198.5px,#000004 204.5px,#000004 232.5px)"></i>
</div>
<svg width="448" height="252" viewBox="0 0 448 252">
<text transform="translate(230.8,25.7) scale(0.88,1)" font-size="13.3" text-anchor="middle" stroke="#fff" stroke-width="0.28">Resonant Feedback Pacing</text>
<rect x="290" y="38.5" width="58.5" height="62.5" fill="#5f5f5f"/>
<path d="M157,80.6V51.2Q157.0,49.8 158.4,49.8H158.4Q159.8,49.8 159.8,51.2V80.1Q159.8,80.6 160.3,80.6H161.0Q161.5,80.6 161.5,80.1V51.2Q161.5,49.8 162.9,49.8H162.9Q164.4,49.8 164.4,51.2V80.1Q164.4,80.6 164.9,80.6H165.6Q166.1,80.6 166.1,80.1V51.2Q166.1,49.8 167.5,49.8H167.7Q169.1,49.8 169.1,51.2V80.1Q169.1,80.6 169.6,80.6H170.0Q170.5,80.6 170.5,80.1V51.2Q170.5,49.8 171.9,49.8H171.7Q173.2,49.8 173.2,51.2V80.1Q173.2,80.6 173.7,80.6H174.5Q175.0,80.6 175.0,80.1V51.2Q175.0,49.8 176.4,49.8H176.4Q177.8,49.8 177.8,51.2V80.1Q177.8,80.6 178.3,80.6H178.8Q179.3,80.6 179.3,80.1V51.2Q179.3,49.8 180.7,49.8H181.1Q182.6,49.8 182.6,51.2V80.1Q182.6,80.6 183.1,80.6H183.7Q184.2,80.6 184.2,80.1V51.2Q184.2,49.8 185.6,49.8H185.9Q187.4,49.8 187.4,51.2V80.1Q187.4,80.6 187.9,80.6H188.4Q188.9,80.6 188.9,80.1V51.2Q188.9,49.8 190.4,49.8H190.6Q192.0,49.8 192.0,51.2V80.1Q192.0,80.6 192.5,80.6H192.9Q193.4,80.6 193.4,80.1V51.2Q193.4,49.8 194.9,49.8H195.0Q196.5,49.8 196.5,51.2V80.1Q196.5,80.6 197.0,80.6H197.8Q198.3,80.6 198.3,80.1V51.2Q198.3,49.8 199.8,49.8H199.9Q201.3,49.8 201.3,51.2V80.1Q201.3,80.6 201.8,80.6H202.6Q203.1,80.6 203.1,80.1V51.2Q203.1,49.8 204.5,49.8H204.7Q206.2,49.8 206.2,51.2V80.1Q206.2,80.6 206.7,80.6H207.0Q207.5,80.6 207.5,80.1V51.2Q207.5,49.8 209.0,49.8H209.2Q210.7,49.8 210.7,51.2V80.1Q210.7,80.6 211.2,80.6H211.8Q212.3,80.6 212.3,80.1V51.2Q212.3,49.8 213.8,49.8H213.8Q215.2,49.8 215.2,51.2V80.1Q215.2,80.6 215.7,80.6H216.0Q216.5,80.6 216.5,80.1V51.2Q216.5,49.8 218.0,49.8H218.3Q219.7,49.8 219.7,51.2V80.1Q219.7,80.6 220.2,80.6H220.8Q221.3,80.6 221.3,80.1V51.2Q221.3,49.8 222.8,49.8H223.0Q224.5,49.8 224.5,51.2V80.1Q224.5,80.6 225.0,80.6H225.8Q226.3,80.6 226.3,80.1V51.2Q226.3,49.8 227.7,49.8H228.0Q229.4,49.8 229.4,51.2V80.1Q229.4,80.6 229.9,80.6H230.8Q231.3,80.6 231.3,80.1V51.2Q231.3,49.8 232.7,49.8H232.8Q234.2,49.8 234.2,51.2V80.1Q234.2,80.6 234.7,80.6H235.5Q236.0,80.6 236.0,80.1V51.2Q236.0,49.8 237.4,49.8H237.5Q239.0,49.8 239.0,51.2V80.1Q239.0,80.6 239.5,80.6H240.3Q240.8,80.6 240.8,80.1V51.2Q240.8,49.8 242.3,49.8H242.6Q244.0,49.8 244.0,51.2V80.1Q244.0,80.6 244.5,80.6H244.9Q245.4,80.6 245.4,80.1V51.2Q245.4,49.8 246.9,49.8H246.7Q248.2,49.8 248.2,51.2V80.1Q248.2,80.6 248.7,80.6H249.1Q249.6,80.6 249.6,80.1V51.2Q249.6,49.8 251.1,49.8H251.4Q252.9,49.8 252.9,51.2V80.1Q252.9,80.6 253.4,80.6H254.0Q254.5,80.6 254.5,80.1V51.2Q254.5,49.8 255.9,49.8H256.1Q257.5,49.8 257.5,51.2V80.1Q257.5,80.6 258.0,80.6H258.5Q259.0,80.6 259.0,80.1V51.2Q259.0,49.8 260.5,49.8H260.6Q262.0,49.8 262.0,51.2V80.1Q262.0,80.6 262.5,80.6H263.0Q263.5,80.6 263.5,80.1V51.2Q263.5,49.8 265.0,49.8H265.0Q266.5,49.8 266.5,51.2V80.1Q266.5,80.6 267.0,80.6H267.6Q268.1,80.6 268.1,80.1V51.2Q268.1,49.8 269.6,49.8H269.7Q271.2,49.8 271.2,51.2V80.1Q271.2,80.6 271.7,80.6H272.5Q273.0,80.6 273.0,80.1V51.2Q273.0,49.8 274.5,49.8H274.7Q276.1,49.8 276.1,51.2V80.1Q276.1,80.6 276.6,80.6H277.5Q278.0,80.6 278.0,80.1V51.2Q278.0,49.8 279.4,49.8H279.7Q281.2,49.8 281.2,51.2V80.1Q281.2,80.6 281.7,80.6H282.6Q283.1,80.6 283.1,80.1V80.6H286" fill="none" stroke="#2a62cc" stroke-width="0.75"/>
<path d="M157.0,51.9V51.2Q157.0,49.8 158.4,49.8H158.4Q159.8,49.8 159.8,51.2V51.9M159.8,79.5V80.1Q159.8,80.6 160.3,80.6H161.0Q161.5,80.6 161.5,80.1V79.5M161.5,51.9V51.2Q161.5,49.8 162.9,49.8H162.9Q164.4,49.8 164.4,51.2V51.9M164.4,79.5V80.1Q164.4,80.6 164.9,80.6H165.6Q166.1,80.6 166.1,80.1V79.5M166.1,51.9V51.2Q166.1,49.8 167.5,49.8H167.7Q169.1,49.8 169.1,51.2V51.9M169.1,79.5V80.1Q169.1,80.6 169.6,80.6H170.0Q170.5,80.6 170.5,80.1V79.5M170.5,51.9V51.2Q170.5,49.8 171.9,49.8H171.7Q173.2,49.8 173.2,51.2V51.9M173.2,79.5V80.1Q173.2,80.6 173.7,80.6H174.5Q175.0,80.6 175.0,80.1V79.5M175.0,51.9V51.2Q175.0,49.8 176.4,49.8H176.4Q177.8,49.8 177.8,51.2V51.9M177.8,79.5V80.1Q177.8,80.6 178.3,80.6H178.8Q179.3,80.6 179.3,80.1V79.5M179.3,51.9V51.2Q179.3,49.8 180.7,49.8H181.1Q182.6,49.8 182.6,51.2V51.9M182.6,79.5V80.1Q182.6,80.6 183.1,80.6H183.7Q184.2,80.6 184.2,80.1V79.5M184.2,51.9V51.2Q184.2,49.8 185.6,49.8H185.9Q187.4,49.8 187.4,51.2V51.9M187.4,79.5V80.1Q187.4,80.6 187.9,80.6H188.4Q188.9,80.6 188.9,80.1V79.5M188.9,51.9V51.2Q188.9,49.8 190.4,49.8H190.6Q192.0,49.8 192.0,51.2V51.9M192.0,79.5V80.1Q192.0,80.6 192.5,80.6H192.9Q193.4,80.6 193.4,80.1V79.5M193.4,51.9V51.2Q193.4,49.8 194.9,49.8H195.0Q196.5,49.8 196.5,51.2V51.9M196.5,79.5V80.1Q196.5,80.6 197.0,80.6H197.8Q198.3,80.6 198.3,80.1V79.5M198.3,51.9V51.2Q198.3,49.8 199.8,49.8H199.9Q201.3,49.8 201.3,51.2V51.9M201.3,79.5V80.1Q201.3,80.6 201.8,80.6H202.6Q203.1,80.6 203.1,80.1V79.5M203.1,51.9V51.2Q203.1,49.8 204.5,49.8H204.7Q206.2,49.8 206.2,51.2V51.9M206.2,79.5V80.1Q206.2,80.6 206.7,80.6H207.0Q207.5,80.6 207.5,80.1V79.5M207.5,51.9V51.2Q207.5,49.8 209.0,49.8H209.2Q210.7,49.8 210.7,51.2V51.9M210.7,79.5V80.1Q210.7,80.6 211.2,80.6H211.8Q212.3,80.6 212.3,80.1V79.5M212.3,51.9V51.2Q212.3,49.8 213.8,49.8H213.8Q215.2,49.8 215.2,51.2V51.9M215.2,79.5V80.1Q215.2,80.6 215.7,80.6H216.0Q216.5,80.6 216.5,80.1V79.5M216.5,51.9V51.2Q216.5,49.8 218.0,49.8H218.3Q219.7,49.8 219.7,51.2V51.9M219.7,79.5V80.1Q219.7,80.6 220.2,80.6H220.8Q221.3,80.6 221.3,80.1V79.5M221.3,51.9V51.2Q221.3,49.8 222.8,49.8H223.0Q224.5,49.8 224.5,51.2V51.9M224.5,79.5V80.1Q224.5,80.6 225.0,80.6H225.8Q226.3,80.6 226.3,80.1V79.5M226.3,51.9V51.2Q226.3,49.8 227.7,49.8H228.0Q229.4,49.8 229.4,51.2V51.9M229.4,79.5V80.1Q229.4,80.6 229.9,80.6H230.8Q231.3,80.6 231.3,80.1V79.5M231.3,51.9V51.2Q231.3,49.8 232.7,49.8H232.8Q234.2,49.8 234.2,51.2V51.9M234.2,79.5V80.1Q234.2,80.6 234.7,80.6H235.5Q236.0,80.6 236.0,80.1V79.5M236.0,51.9V51.2Q236.0,49.8 237.4,49.8H237.5Q239.0,49.8 239.0,51.2V51.9M239.0,79.5V80.1Q239.0,80.6 239.5,80.6H240.3Q240.8,80.6 240.8,80.1V79.5M240.8,51.9V51.2Q240.8,49.8 242.3,49.8H242.6Q244.0,49.8 244.0,51.2V51.9M244.0,79.5V80.1Q244.0,80.6 244.5,80.6H244.9Q245.4,80.6 245.4,80.1V79.5M245.4,51.9V51.2Q245.4,49.8 246.9,49.8H246.7Q248.2,49.8 248.2,51.2V51.9M248.2,79.5V80.1Q248.2,80.6 248.7,80.6H249.1Q249.6,80.6 249.6,80.1V79.5M249.6,51.9V51.2Q249.6,49.8 251.1,49.8H251.4Q252.9,49.8 252.9,51.2V51.9M252.9,79.5V80.1Q252.9,80.6 253.4,80.6H254.0Q254.5,80.6 254.5,80.1V79.5M254.5,51.9V51.2Q254.5,49.8 255.9,49.8H256.1Q257.5,49.8 257.5,51.2V51.9M257.5,79.5V80.1Q257.5,80.6 258.0,80.6H258.5Q259.0,80.6 259.0,80.1V79.5M259.0,51.9V51.2Q259.0,49.8 260.5,49.8H260.6Q262.0,49.8 262.0,51.2V51.9M262.0,79.5V80.1Q262.0,80.6 262.5,80.6H263.0Q263.5,80.6 263.5,80.1V79.5M263.5,51.9V51.2Q263.5,49.8 265.0,49.8H265.0Q266.5,49.8 266.5,51.2V51.9M266.5,79.5V80.1Q266.5,80.6 267.0,80.6H267.6Q268.1,80.6 268.1,80.1V79.5M268.1,51.9V51.2Q268.1,49.8 269.6,49.8H269.7Q271.2,49.8 271.2,51.2V51.9M271.2,79.5V80.1Q271.2,80.6 271.7,80.6H272.5Q273.0,80.6 273.0,80.1V79.5M273.0,51.9V51.2Q273.0,49.8 274.5,49.8H274.7Q276.1,49.8 276.1,51.2V51.9M276.1,79.5V80.1Q276.1,80.6 276.6,80.6H277.5Q278.0,80.6 278.0,80.1V79.5M278.0,51.9V51.2Q278.0,49.8 279.4,49.8H279.7Q281.2,49.8 281.2,51.2V51.9M281.2,79.5V80.1Q281.2,80.6 281.7,80.6H282.6Q283.1,80.6 283.1,80.1V79.5" fill="none" stroke="#4a8ef6" stroke-width="1.05"/>
<path d="M113.5,80.7H157" fill="none" stroke="#3a7ce8" stroke-width="1.3"/>
<path d="M286,81.1H348" fill="none" stroke="#5f9ae8" stroke-width="1"/>
<polyline points="113.5,70 115,59.4 116.7,72.8 118.8,56.3 120.4,90.3 122.3,60.4 124.5,85 127,53.2 128.5,87 130.5,58.4 132,85 133.6,58.4 135.2,83 136.6,55.8 138.3,82.5 141.5,61 143.6,85.8 146.8,51.5 149,91 151.1,63 153.3,86.8 155,59 156.6,80 158.3,56 160,78 161.2,59 163.4,85.8 165.5,64 167.6,74 169.8,63 171.3,70.8 173,65.4 175.1,74 177.3,66.5 179,71.8 181.1,65.4 182.8,73 185.2,56.8 186.9,89 189.5,58 191.6,80.4 193.8,52.6 195.6,82.5 197.2,50.4 198.9,93 201.3,54.7 203.2,76 204.6,63 206.2,75 208.1,60 209.9,69.7 211.4,64.3 213.1,81.5 214.6,63.3 216.3,79.3 217.8,65.4 219.3,74 221,69.7 222.7,78.3 224.8,56.8 226.3,88 227.8,59 229.6,82.5 231.2,54.7 232.7,85.8 234.3,56.8 236,86.8 237.5,55.8 239,81.5 240.7,56.8 242.4,63.3 243.3,65.4 244.6,67.5 246,71.8 248.2,54.7 249.7,86.8 251.4,52.6 253.1,84.7 254.6,53.6 255.9,87.6 257.6,54.3 260,84 261.6,57.9 263.5,79.3 265.2,61.4 267.1,75.7 268.3,62.6 270.2,79.3 271.5,67.4 272.9,81.7 274.8,54.3 276.7,73.3 279,44.8 280.7,87.6 281.8,99.5 283.1,71 284.8,81.7 286.7,78 289,75.7 292.6,73.6 300,73 309.4,70.7 317.3,70.5 318.6,67 319.3,65.8 320.2,68 321.2,74.5 322.3,76.6 324,75 326,73.3 330,71.9 342.3,71.6 343.2,66.5 344,64.6 344.8,67 345.6,71.5 348,72" fill="none" stroke="#c8c8c8" stroke-width="1.0" stroke-linejoin="round"/>
<rect x="113.5" y="38.5" width="235" height="62.7" fill="none" stroke="#bdbdbd" stroke-width="1"/>
<g stroke="#bdbdbd" stroke-width="1">
<line x1="110.5" y1="51.7" x2="113.5" y2="51.7"/>
<line x1="110.5" y1="71.5" x2="113.5" y2="71.5"/>
<line x1="110.5" y1="91.4" x2="113.5" y2="91.4"/>
<line x1="113.5" y1="101.2" x2="113.5" y2="103.5"/>
<line x1="334.5" y1="101.2" x2="334.5" y2="103.5"/>
</g>
<text x="116.5" y="45.4" font-size="8.05">arrhythmia</text>
<text x="319.4" y="47.8" font-size="8.35" text-anchor="middle">termination</text>
<g font-size="10" text-anchor="end">
<text x="108.7" y="55.3">0.1</text>
<text x="108.7" y="75.6">0.0</text>
<text x="108.4" y="95.3">-0.1</text>
</g>
<text x="113.5" y="112.7" font-size="10" text-anchor="middle">0</text>
<text x="335.5" y="113.4" font-size="10.2" text-anchor="middle">2500</text>
<text x="222.5" y="119.6" font-size="11.5" text-anchor="middle">time (ms)</text>
<text transform="translate(89,71) rotate(-90) scale(0.91,1)" font-size="11.5" text-anchor="middle" stroke="#fff" stroke-width="0.15">MAP (a.u.)</text>
<rect x="114.7" y="133.2" width="233.8" height="100.6" fill="none" stroke="#b8b8b8" stroke-width="1.3"/>
</svg>
</body></html>
